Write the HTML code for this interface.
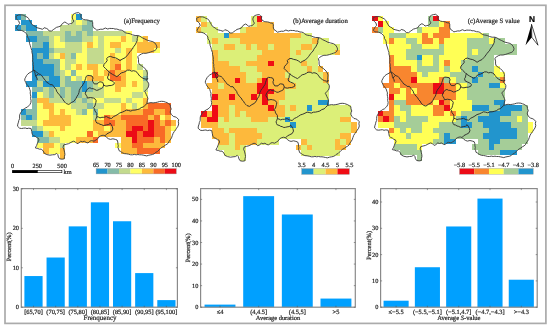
<!DOCTYPE html><html><head><meta charset="utf-8"><style>html,body{margin:0;padding:0;background:#fff;}svg{display:block;filter:blur(0.3px);}</style></head><body>
<svg width="550" height="329" viewBox="0 0 550 329" text-rendering="geometricPrecision">
<rect width="550" height="329" fill="#fff"/>
<g shape-rendering="crispEdges"><rect x="15.20" y="14.10" width="5.57" height="5.60" fill="#2295cd"/>
<rect x="20.75" y="14.10" width="5.57" height="5.60" fill="#85bba8"/>
<rect x="70.70" y="14.10" width="5.57" height="5.60" fill="#ffff66"/>
<rect x="76.25" y="14.10" width="5.57" height="5.60" fill="#2295cd"/>
<rect x="20.75" y="19.68" width="11.12" height="5.60" fill="#2295cd"/>
<rect x="70.70" y="19.68" width="5.57" height="5.60" fill="#c3da8e"/>
<rect x="76.25" y="19.68" width="5.57" height="5.60" fill="#ffff66"/>
<rect x="81.80" y="19.68" width="5.57" height="5.60" fill="#c3da8e"/>
<rect x="87.35" y="19.68" width="5.57" height="5.60" fill="#85bba8"/>
<rect x="15.20" y="25.27" width="5.57" height="5.60" fill="#2295cd"/>
<rect x="20.75" y="25.27" width="5.57" height="5.60" fill="#85bba8"/>
<rect x="26.30" y="25.27" width="11.12" height="5.60" fill="#2295cd"/>
<rect x="59.60" y="25.27" width="22.22" height="5.60" fill="#c3da8e"/>
<rect x="81.80" y="25.27" width="11.12" height="5.60" fill="#85bba8"/>
<rect x="26.30" y="30.85" width="16.67" height="5.60" fill="#85bba8"/>
<rect x="42.95" y="30.85" width="22.22" height="5.60" fill="#c3da8e"/>
<rect x="65.15" y="30.85" width="5.57" height="5.60" fill="#85bba8"/>
<rect x="70.70" y="30.85" width="5.57" height="5.60" fill="#c3da8e"/>
<rect x="76.25" y="30.85" width="5.57" height="5.60" fill="#85bba8"/>
<rect x="81.80" y="30.85" width="5.57" height="5.60" fill="#c3da8e"/>
<rect x="87.35" y="30.85" width="5.57" height="5.60" fill="#85bba8"/>
<rect x="92.90" y="30.85" width="33.32" height="5.60" fill="#c3da8e"/>
<rect x="126.20" y="30.85" width="5.57" height="5.60" fill="#ffff66"/>
<rect x="26.30" y="36.44" width="11.12" height="5.60" fill="#2295cd"/>
<rect x="37.40" y="36.44" width="11.12" height="5.60" fill="#85bba8"/>
<rect x="48.50" y="36.44" width="5.57" height="5.60" fill="#c3da8e"/>
<rect x="54.05" y="36.44" width="5.57" height="5.60" fill="#ffff66"/>
<rect x="59.60" y="36.44" width="5.57" height="5.60" fill="#c3da8e"/>
<rect x="65.15" y="36.44" width="16.67" height="5.60" fill="#85bba8"/>
<rect x="81.80" y="36.44" width="11.12" height="5.60" fill="#c3da8e"/>
<rect x="92.90" y="36.44" width="5.57" height="5.60" fill="#ffff66"/>
<rect x="98.45" y="36.44" width="5.57" height="5.60" fill="#c3da8e"/>
<rect x="104.00" y="36.44" width="16.67" height="5.60" fill="#ffff66"/>
<rect x="120.65" y="36.44" width="5.57" height="5.60" fill="#fdba3c"/>
<rect x="126.20" y="36.44" width="5.57" height="5.60" fill="#ffff66"/>
<rect x="131.75" y="36.44" width="5.57" height="5.60" fill="#c3da8e"/>
<rect x="137.30" y="36.44" width="5.57" height="5.60" fill="#ffff66"/>
<rect x="142.85" y="36.44" width="5.57" height="5.60" fill="#fdba3c"/>
<rect x="31.85" y="42.02" width="11.12" height="5.60" fill="#85bba8"/>
<rect x="42.95" y="42.02" width="5.57" height="5.60" fill="#2295cd"/>
<rect x="48.50" y="42.02" width="5.57" height="5.60" fill="#c3da8e"/>
<rect x="54.05" y="42.02" width="11.12" height="5.60" fill="#ffff66"/>
<rect x="65.15" y="42.02" width="16.67" height="5.60" fill="#c3da8e"/>
<rect x="81.80" y="42.02" width="5.57" height="5.60" fill="#ffff66"/>
<rect x="87.35" y="42.02" width="5.57" height="5.60" fill="#fdba3c"/>
<rect x="92.90" y="42.02" width="5.57" height="5.60" fill="#ffff66"/>
<rect x="98.45" y="42.02" width="5.57" height="5.60" fill="#c3da8e"/>
<rect x="104.00" y="42.02" width="5.57" height="5.60" fill="#ffff66"/>
<rect x="109.55" y="42.02" width="11.12" height="5.60" fill="#fdba3c"/>
<rect x="120.65" y="42.02" width="16.67" height="5.60" fill="#ffff66"/>
<rect x="137.30" y="42.02" width="22.22" height="5.60" fill="#fdba3c"/>
<rect x="31.85" y="47.61" width="16.67" height="5.60" fill="#2295cd"/>
<rect x="48.50" y="47.61" width="5.57" height="5.60" fill="#85bba8"/>
<rect x="54.05" y="47.61" width="27.77" height="5.60" fill="#c3da8e"/>
<rect x="81.80" y="47.61" width="5.57" height="5.60" fill="#ffff66"/>
<rect x="87.35" y="47.61" width="16.67" height="5.60" fill="#c3da8e"/>
<rect x="104.00" y="47.61" width="11.12" height="5.60" fill="#ffff66"/>
<rect x="115.10" y="47.61" width="5.57" height="5.60" fill="#c3da8e"/>
<rect x="120.65" y="47.61" width="5.57" height="5.60" fill="#ffff66"/>
<rect x="126.20" y="47.61" width="5.57" height="5.60" fill="#fdba3c"/>
<rect x="131.75" y="47.61" width="5.57" height="5.60" fill="#ffff66"/>
<rect x="137.30" y="47.61" width="16.67" height="5.60" fill="#fdba3c"/>
<rect x="153.95" y="47.61" width="5.57" height="5.60" fill="#ffff66"/>
<rect x="31.85" y="53.20" width="5.57" height="5.60" fill="#2295cd"/>
<rect x="37.40" y="53.20" width="5.57" height="5.60" fill="#85bba8"/>
<rect x="42.95" y="53.20" width="5.57" height="5.60" fill="#2295cd"/>
<rect x="48.50" y="53.20" width="5.57" height="5.60" fill="#c3da8e"/>
<rect x="54.05" y="53.20" width="5.57" height="5.60" fill="#ffff66"/>
<rect x="59.60" y="53.20" width="5.57" height="5.60" fill="#fdba3c"/>
<rect x="65.15" y="53.20" width="5.57" height="5.60" fill="#c3da8e"/>
<rect x="70.70" y="53.20" width="5.57" height="5.60" fill="#85bba8"/>
<rect x="76.25" y="53.20" width="11.12" height="5.60" fill="#ffff66"/>
<rect x="87.35" y="53.20" width="16.67" height="5.60" fill="#c3da8e"/>
<rect x="104.00" y="53.20" width="5.57" height="5.60" fill="#ffff66"/>
<rect x="109.55" y="53.20" width="5.57" height="5.60" fill="#fdba3c"/>
<rect x="115.10" y="53.20" width="11.12" height="5.60" fill="#ffff66"/>
<rect x="126.20" y="53.20" width="5.57" height="5.60" fill="#fdba3c"/>
<rect x="131.75" y="53.20" width="5.57" height="5.60" fill="#ffff66"/>
<rect x="31.85" y="58.78" width="11.12" height="5.60" fill="#2295cd"/>
<rect x="42.95" y="58.78" width="16.67" height="5.60" fill="#85bba8"/>
<rect x="59.60" y="58.78" width="5.57" height="5.60" fill="#ffff66"/>
<rect x="65.15" y="58.78" width="11.12" height="5.60" fill="#c3da8e"/>
<rect x="76.25" y="58.78" width="11.12" height="5.60" fill="#ffff66"/>
<rect x="87.35" y="58.78" width="16.67" height="5.60" fill="#c3da8e"/>
<rect x="104.00" y="58.78" width="5.57" height="5.60" fill="#ffff66"/>
<rect x="109.55" y="58.78" width="11.12" height="5.60" fill="#fdba3c"/>
<rect x="120.65" y="58.78" width="5.57" height="5.60" fill="#ffff66"/>
<rect x="126.20" y="58.78" width="5.57" height="5.60" fill="#fdba3c"/>
<rect x="131.75" y="58.78" width="5.57" height="5.60" fill="#ffff66"/>
<rect x="31.85" y="64.36" width="22.22" height="5.60" fill="#2295cd"/>
<rect x="54.05" y="64.36" width="5.57" height="5.60" fill="#85bba8"/>
<rect x="59.60" y="64.36" width="5.57" height="5.60" fill="#ffff66"/>
<rect x="65.15" y="64.36" width="5.57" height="5.60" fill="#c3da8e"/>
<rect x="70.70" y="64.36" width="5.57" height="5.60" fill="#ffff66"/>
<rect x="76.25" y="64.36" width="5.57" height="5.60" fill="#fdba3c"/>
<rect x="81.80" y="64.36" width="5.57" height="5.60" fill="#ffff66"/>
<rect x="87.35" y="64.36" width="11.12" height="5.60" fill="#fdba3c"/>
<rect x="98.45" y="64.36" width="11.12" height="5.60" fill="#ffff66"/>
<rect x="109.55" y="64.36" width="5.57" height="5.60" fill="#fdba3c"/>
<rect x="115.10" y="64.36" width="5.57" height="5.60" fill="#f86a26"/>
<rect x="120.65" y="64.36" width="5.57" height="5.60" fill="#ffff66"/>
<rect x="126.20" y="64.36" width="5.57" height="5.60" fill="#fdba3c"/>
<rect x="131.75" y="64.36" width="5.57" height="5.60" fill="#ffff66"/>
<rect x="137.30" y="64.36" width="5.57" height="5.60" fill="#c3da8e"/>
<rect x="31.85" y="69.95" width="22.22" height="5.60" fill="#2295cd"/>
<rect x="54.05" y="69.95" width="5.57" height="5.60" fill="#85bba8"/>
<rect x="59.60" y="69.95" width="5.57" height="5.60" fill="#c3da8e"/>
<rect x="65.15" y="69.95" width="5.57" height="5.60" fill="#ffff66"/>
<rect x="70.70" y="69.95" width="5.57" height="5.60" fill="#85bba8"/>
<rect x="76.25" y="69.95" width="16.67" height="5.60" fill="#ffff66"/>
<rect x="92.90" y="69.95" width="5.57" height="5.60" fill="#fdba3c"/>
<rect x="98.45" y="69.95" width="5.57" height="5.60" fill="#ffff66"/>
<rect x="104.00" y="69.95" width="5.57" height="5.60" fill="#fdba3c"/>
<rect x="109.55" y="69.95" width="5.57" height="5.60" fill="#f86a26"/>
<rect x="115.10" y="69.95" width="11.12" height="5.60" fill="#fdba3c"/>
<rect x="126.20" y="69.95" width="16.67" height="5.60" fill="#ffff66"/>
<rect x="142.85" y="69.95" width="5.57" height="5.60" fill="#c3da8e"/>
<rect x="31.85" y="75.53" width="5.57" height="5.60" fill="#2295cd"/>
<rect x="37.40" y="75.53" width="11.12" height="5.60" fill="#85bba8"/>
<rect x="48.50" y="75.53" width="11.12" height="5.60" fill="#2295cd"/>
<rect x="59.60" y="75.53" width="5.57" height="5.60" fill="#c3da8e"/>
<rect x="65.15" y="75.53" width="5.57" height="5.60" fill="#85bba8"/>
<rect x="70.70" y="75.53" width="5.57" height="5.60" fill="#ffff66"/>
<rect x="76.25" y="75.53" width="5.57" height="5.60" fill="#c3da8e"/>
<rect x="81.80" y="75.53" width="5.57" height="5.60" fill="#ffff66"/>
<rect x="87.35" y="75.53" width="16.67" height="5.60" fill="#fdba3c"/>
<rect x="104.00" y="75.53" width="5.57" height="5.60" fill="#ffff66"/>
<rect x="109.55" y="75.53" width="11.12" height="5.60" fill="#f86a26"/>
<rect x="120.65" y="75.53" width="5.57" height="5.60" fill="#fdba3c"/>
<rect x="126.20" y="75.53" width="16.67" height="5.60" fill="#ffff66"/>
<rect x="142.85" y="75.53" width="5.57" height="5.60" fill="#85bba8"/>
<rect x="26.30" y="81.12" width="11.12" height="5.60" fill="#2295cd"/>
<rect x="37.40" y="81.12" width="5.57" height="5.60" fill="#c3da8e"/>
<rect x="42.95" y="81.12" width="16.67" height="5.60" fill="#2295cd"/>
<rect x="59.60" y="81.12" width="5.57" height="5.60" fill="#c3da8e"/>
<rect x="65.15" y="81.12" width="16.67" height="5.60" fill="#85bba8"/>
<rect x="81.80" y="81.12" width="5.57" height="5.60" fill="#2295cd"/>
<rect x="87.35" y="81.12" width="5.57" height="5.60" fill="#85bba8"/>
<rect x="92.90" y="81.12" width="5.57" height="5.60" fill="#c3da8e"/>
<rect x="98.45" y="81.12" width="16.67" height="5.60" fill="#ffff66"/>
<rect x="115.10" y="81.12" width="11.12" height="5.60" fill="#fdba3c"/>
<rect x="126.20" y="81.12" width="5.57" height="5.60" fill="#ffff66"/>
<rect x="131.75" y="81.12" width="5.57" height="5.60" fill="#fdba3c"/>
<rect x="137.30" y="81.12" width="5.57" height="5.60" fill="#ffff66"/>
<rect x="142.85" y="81.12" width="5.57" height="5.60" fill="#c3da8e"/>
<rect x="31.85" y="86.70" width="11.12" height="5.60" fill="#85bba8"/>
<rect x="42.95" y="86.70" width="5.57" height="5.60" fill="#c3da8e"/>
<rect x="48.50" y="86.70" width="5.57" height="5.60" fill="#85bba8"/>
<rect x="54.05" y="86.70" width="5.57" height="5.60" fill="#c3da8e"/>
<rect x="59.60" y="86.70" width="5.57" height="5.60" fill="#85bba8"/>
<rect x="65.15" y="86.70" width="5.57" height="5.60" fill="#c3da8e"/>
<rect x="70.70" y="86.70" width="11.12" height="5.60" fill="#85bba8"/>
<rect x="81.80" y="86.70" width="5.57" height="5.60" fill="#2295cd"/>
<rect x="87.35" y="86.70" width="5.57" height="5.60" fill="#85bba8"/>
<rect x="92.90" y="86.70" width="11.12" height="5.60" fill="#c3da8e"/>
<rect x="104.00" y="86.70" width="11.12" height="5.60" fill="#ffff66"/>
<rect x="115.10" y="86.70" width="5.57" height="5.60" fill="#fdba3c"/>
<rect x="120.65" y="86.70" width="22.22" height="5.60" fill="#ffff66"/>
<rect x="142.85" y="86.70" width="5.57" height="5.60" fill="#c3da8e"/>
<rect x="31.85" y="92.29" width="5.57" height="5.60" fill="#2295cd"/>
<rect x="37.40" y="92.29" width="5.57" height="5.60" fill="#ffff66"/>
<rect x="42.95" y="92.29" width="5.57" height="5.60" fill="#c3da8e"/>
<rect x="48.50" y="92.29" width="5.57" height="5.60" fill="#85bba8"/>
<rect x="54.05" y="92.29" width="5.57" height="5.60" fill="#c3da8e"/>
<rect x="59.60" y="92.29" width="5.57" height="5.60" fill="#85bba8"/>
<rect x="65.15" y="92.29" width="5.57" height="5.60" fill="#c3da8e"/>
<rect x="70.70" y="92.29" width="11.12" height="5.60" fill="#85bba8"/>
<rect x="81.80" y="92.29" width="22.22" height="5.60" fill="#c3da8e"/>
<rect x="104.00" y="92.29" width="27.77" height="5.60" fill="#ffff66"/>
<rect x="131.75" y="92.29" width="11.12" height="5.60" fill="#c3da8e"/>
<rect x="142.85" y="92.29" width="5.57" height="5.60" fill="#ffff66"/>
<rect x="31.85" y="97.88" width="5.57" height="5.60" fill="#85bba8"/>
<rect x="37.40" y="97.88" width="11.12" height="5.60" fill="#fdba3c"/>
<rect x="48.50" y="97.88" width="22.22" height="5.60" fill="#c3da8e"/>
<rect x="70.70" y="97.88" width="5.57" height="5.60" fill="#85bba8"/>
<rect x="76.25" y="97.88" width="5.57" height="5.60" fill="#c3da8e"/>
<rect x="81.80" y="97.88" width="5.57" height="5.60" fill="#85bba8"/>
<rect x="87.35" y="97.88" width="5.57" height="5.60" fill="#c3da8e"/>
<rect x="92.90" y="97.88" width="11.12" height="5.60" fill="#ffff66"/>
<rect x="104.00" y="97.88" width="16.67" height="5.60" fill="#c3da8e"/>
<rect x="120.65" y="97.88" width="5.57" height="5.60" fill="#ffff66"/>
<rect x="126.20" y="97.88" width="5.57" height="5.60" fill="#c3da8e"/>
<rect x="131.75" y="97.88" width="11.12" height="5.60" fill="#ffff66"/>
<rect x="142.85" y="97.88" width="5.57" height="5.60" fill="#fdba3c"/>
<rect x="31.85" y="103.46" width="5.57" height="5.60" fill="#85bba8"/>
<rect x="37.40" y="103.46" width="5.57" height="5.60" fill="#ffff66"/>
<rect x="42.95" y="103.46" width="11.12" height="5.60" fill="#fdba3c"/>
<rect x="54.05" y="103.46" width="16.67" height="5.60" fill="#ffff66"/>
<rect x="70.70" y="103.46" width="16.67" height="5.60" fill="#c3da8e"/>
<rect x="87.35" y="103.46" width="5.57" height="5.60" fill="#85bba8"/>
<rect x="92.90" y="103.46" width="11.12" height="5.60" fill="#c3da8e"/>
<rect x="104.00" y="103.46" width="16.67" height="5.60" fill="#ffff66"/>
<rect x="120.65" y="103.46" width="5.57" height="5.60" fill="#fdba3c"/>
<rect x="126.20" y="103.46" width="5.57" height="5.60" fill="#ffff66"/>
<rect x="131.75" y="103.46" width="5.57" height="5.60" fill="#c3da8e"/>
<rect x="137.30" y="103.46" width="5.57" height="5.60" fill="#ffff66"/>
<rect x="142.85" y="103.46" width="5.57" height="5.60" fill="#fdba3c"/>
<rect x="148.40" y="103.46" width="22.22" height="5.60" fill="#f86a26"/>
<rect x="20.75" y="109.04" width="5.57" height="5.60" fill="#2295cd"/>
<rect x="26.30" y="109.04" width="11.12" height="5.60" fill="#85bba8"/>
<rect x="37.40" y="109.04" width="11.12" height="5.60" fill="#ffff66"/>
<rect x="48.50" y="109.04" width="5.57" height="5.60" fill="#fdba3c"/>
<rect x="54.05" y="109.04" width="5.57" height="5.60" fill="#ffff66"/>
<rect x="59.60" y="109.04" width="5.57" height="5.60" fill="#fdba3c"/>
<rect x="65.15" y="109.04" width="11.12" height="5.60" fill="#ffff66"/>
<rect x="76.25" y="109.04" width="5.57" height="5.60" fill="#c3da8e"/>
<rect x="81.80" y="109.04" width="5.57" height="5.60" fill="#85bba8"/>
<rect x="87.35" y="109.04" width="5.57" height="5.60" fill="#ffff66"/>
<rect x="92.90" y="109.04" width="5.57" height="5.60" fill="#85bba8"/>
<rect x="98.45" y="109.04" width="22.22" height="5.60" fill="#ffff66"/>
<rect x="120.65" y="109.04" width="22.22" height="5.60" fill="#fdba3c"/>
<rect x="142.85" y="109.04" width="11.12" height="5.60" fill="#f86a26"/>
<rect x="153.95" y="109.04" width="11.12" height="5.60" fill="#fdba3c"/>
<rect x="165.05" y="109.04" width="5.57" height="5.60" fill="#f86a26"/>
<rect x="20.75" y="114.63" width="5.57" height="5.60" fill="#85bba8"/>
<rect x="26.30" y="114.63" width="5.57" height="5.60" fill="#2295cd"/>
<rect x="31.85" y="114.63" width="5.57" height="5.60" fill="#85bba8"/>
<rect x="37.40" y="114.63" width="11.12" height="5.60" fill="#ffff66"/>
<rect x="48.50" y="114.63" width="22.22" height="5.60" fill="#fdba3c"/>
<rect x="70.70" y="114.63" width="22.22" height="5.60" fill="#ffff66"/>
<rect x="92.90" y="114.63" width="5.57" height="5.60" fill="#c3da8e"/>
<rect x="98.45" y="114.63" width="5.57" height="5.60" fill="#ffff66"/>
<rect x="104.00" y="114.63" width="5.57" height="5.60" fill="#f86a26"/>
<rect x="109.55" y="114.63" width="11.12" height="5.60" fill="#fdba3c"/>
<rect x="120.65" y="114.63" width="27.77" height="5.60" fill="#f86a26"/>
<rect x="148.40" y="114.63" width="5.57" height="5.60" fill="#fdba3c"/>
<rect x="153.95" y="114.63" width="5.57" height="5.60" fill="#f86a26"/>
<rect x="159.50" y="114.63" width="5.57" height="5.60" fill="#ffff66"/>
<rect x="165.05" y="114.63" width="5.57" height="5.60" fill="#fdba3c"/>
<rect x="20.75" y="120.21" width="16.67" height="5.60" fill="#c3da8e"/>
<rect x="37.40" y="120.21" width="5.57" height="5.60" fill="#ffff66"/>
<rect x="42.95" y="120.21" width="27.77" height="5.60" fill="#fdba3c"/>
<rect x="70.70" y="120.21" width="22.22" height="5.60" fill="#ffff66"/>
<rect x="92.90" y="120.21" width="11.12" height="5.60" fill="#fdba3c"/>
<rect x="104.00" y="120.21" width="11.12" height="5.60" fill="#f86a26"/>
<rect x="115.10" y="120.21" width="11.12" height="5.60" fill="#fdba3c"/>
<rect x="126.20" y="120.21" width="22.22" height="5.60" fill="#f86a26"/>
<rect x="148.40" y="120.21" width="5.57" height="5.60" fill="#ec0c16"/>
<rect x="153.95" y="120.21" width="5.57" height="5.60" fill="#f86a26"/>
<rect x="159.50" y="120.21" width="5.57" height="5.60" fill="#fdba3c"/>
<rect x="165.05" y="120.21" width="5.57" height="5.60" fill="#f86a26"/>
<rect x="170.60" y="120.21" width="5.57" height="5.60" fill="#fdba3c"/>
<rect x="31.85" y="125.80" width="5.57" height="5.60" fill="#85bba8"/>
<rect x="37.40" y="125.80" width="5.57" height="5.60" fill="#c3da8e"/>
<rect x="42.95" y="125.80" width="16.67" height="5.60" fill="#ffff66"/>
<rect x="59.60" y="125.80" width="5.57" height="5.60" fill="#fdba3c"/>
<rect x="65.15" y="125.80" width="27.77" height="5.60" fill="#ffff66"/>
<rect x="92.90" y="125.80" width="11.12" height="5.60" fill="#fdba3c"/>
<rect x="104.00" y="125.80" width="5.57" height="5.60" fill="#ffff66"/>
<rect x="109.55" y="125.80" width="16.67" height="5.60" fill="#fdba3c"/>
<rect x="126.20" y="125.80" width="5.57" height="5.60" fill="#f86a26"/>
<rect x="131.75" y="125.80" width="11.12" height="5.60" fill="#ec0c16"/>
<rect x="142.85" y="125.80" width="5.57" height="5.60" fill="#f86a26"/>
<rect x="148.40" y="125.80" width="5.57" height="5.60" fill="#ec0c16"/>
<rect x="153.95" y="125.80" width="11.12" height="5.60" fill="#f86a26"/>
<rect x="165.05" y="125.80" width="5.57" height="5.60" fill="#fdba3c"/>
<rect x="170.60" y="125.80" width="5.57" height="5.60" fill="#ffff66"/>
<rect x="31.85" y="131.38" width="11.12" height="5.60" fill="#2295cd"/>
<rect x="42.95" y="131.38" width="5.57" height="5.60" fill="#c3da8e"/>
<rect x="48.50" y="131.38" width="5.57" height="5.60" fill="#fdba3c"/>
<rect x="54.05" y="131.38" width="33.32" height="5.60" fill="#ffff66"/>
<rect x="87.35" y="131.38" width="5.57" height="5.60" fill="#f86a26"/>
<rect x="92.90" y="131.38" width="5.57" height="5.60" fill="#ffff66"/>
<rect x="98.45" y="131.38" width="27.77" height="5.60" fill="#fdba3c"/>
<rect x="126.20" y="131.38" width="11.12" height="5.60" fill="#ec0c16"/>
<rect x="137.30" y="131.38" width="5.57" height="5.60" fill="#f86a26"/>
<rect x="142.85" y="131.38" width="11.12" height="5.60" fill="#ec0c16"/>
<rect x="153.95" y="131.38" width="11.12" height="5.60" fill="#f86a26"/>
<rect x="165.05" y="131.38" width="5.57" height="5.60" fill="#fdba3c"/>
<rect x="37.40" y="136.97" width="11.12" height="5.60" fill="#85bba8"/>
<rect x="48.50" y="136.97" width="11.12" height="5.60" fill="#c3da8e"/>
<rect x="59.60" y="136.97" width="16.67" height="5.60" fill="#ffff66"/>
<rect x="76.25" y="136.97" width="16.67" height="5.60" fill="#fdba3c"/>
<rect x="92.90" y="136.97" width="5.57" height="5.60" fill="#f86a26"/>
<rect x="120.65" y="136.97" width="11.12" height="5.60" fill="#fdba3c"/>
<rect x="131.75" y="136.97" width="5.57" height="5.60" fill="#ec0c16"/>
<rect x="137.30" y="136.97" width="16.67" height="5.60" fill="#f86a26"/>
<rect x="153.95" y="136.97" width="5.57" height="5.60" fill="#fdba3c"/>
<rect x="159.50" y="136.97" width="5.57" height="5.60" fill="#f86a26"/>
<rect x="165.05" y="136.97" width="5.57" height="5.60" fill="#fdba3c"/>
<rect x="37.40" y="142.56" width="5.57" height="5.60" fill="#ffff66"/>
<rect x="42.95" y="142.56" width="11.12" height="5.60" fill="#fdba3c"/>
<rect x="54.05" y="142.56" width="5.57" height="5.60" fill="#ffff66"/>
<rect x="59.60" y="142.56" width="5.57" height="5.60" fill="#c3da8e"/>
<rect x="115.10" y="142.56" width="5.57" height="5.60" fill="#ffff66"/>
<rect x="120.65" y="142.56" width="11.12" height="5.60" fill="#fdba3c"/>
<rect x="131.75" y="142.56" width="11.12" height="5.60" fill="#f86a26"/>
<rect x="142.85" y="142.56" width="22.22" height="5.60" fill="#fdba3c"/>
<rect x="42.95" y="148.14" width="5.57" height="5.60" fill="#fdba3c"/>
<rect x="48.50" y="148.14" width="11.12" height="5.60" fill="#ffff66"/>
<rect x="59.60" y="148.14" width="5.57" height="5.60" fill="#fdba3c"/>
<rect x="120.65" y="148.14" width="16.67" height="5.60" fill="#fdba3c"/>
<rect x="137.30" y="148.14" width="22.22" height="5.60" fill="#f86a26"/>
<rect x="59.60" y="153.72" width="5.57" height="5.60" fill="#fdba3c"/></g>
<g transform="translate(15.2,14.1)" fill="none" stroke-linejoin="round"><path d="M0.8,2.1 L3.6,0.8 L5.2,0.8 L6.9,0.8 L8.5,1.3 L10.1,2.2 L11.8,2.9 L13.4,4.3 L14.3,6.2 L15.5,8.3 L16.7,10.3 L18.1,11.2 L19.7,12.0 L20.8,13.3 L22.8,13.9 L24.9,14.4 L27.4,15.2 L29.0,13.6 L31.5,14.4 L33.0,15.4 L34.0,16.9 L36.4,16.9 L38.0,15.6 L39.7,14.4 L41.2,13.3 L43.0,12.8 L45.5,12.0 L47.1,9.5 L49.6,7.9 L51.4,8.8 L52.8,10.3 L54.4,9.8 L56.1,9.5 L57.6,8.5 L58.6,7.0 L57.5,5.1 L57.0,2.9 L57.8,0.5 L59.3,-0.6 L61.1,-1.2 L63.5,-1.5 L64.7,-0.4 L66.0,0.5 L65.6,2.1 L66.0,3.8 L68.4,5.4 L70.1,5.7 L71.7,5.8 L73.4,6.2 L74.9,7.0 L76.7,7.0 L77.5,8.6 L77.5,10.3 L77.6,12.0 L78.3,13.6 L80.1,14.7 L81.6,16.1 L83.5,15.6 L85.5,15.1 L87.6,15.2 L90.1,13.9 L92.5,14.9 L94.5,14.3 L96.6,14.4 L98.3,14.4 L99.8,15.0 L101.5,14.9 L104.2,15.9 L106.0,16.0 L107.6,16.6 L108.9,17.7 L110.3,18.7 L112.0,19.2 L113.8,19.4 L115.5,19.9 L117.2,20.7 L119.9,21.4 L122.6,21.4 L124.7,22.1 L126.7,23.5 L129.5,24.8 L132.2,26.2 L134.9,26.9 L137.7,27.6 L139.7,28.9 L141.1,31.0 L141.8,33.0 L141.1,35.1 L139.7,36.4 L137.7,37.1 L135.6,37.8 L133.6,38.5 L130.8,39.2 L128.1,39.2 L126.1,39.9 L124.0,41.2 L122.6,42.6 L123.3,45.3 L123.3,48.1 L124.0,50.1 L126.1,51.5 L128.1,52.8 L130.2,54.9 L131.5,56.9 L132.2,58.9 L132.0,61.0 L131.9,63.2 L131.9,64.9 L131.1,66.5 L132.7,67.9 L133.6,69.8 L133.4,71.9 L132.7,73.9 L131.0,75.4 L129.5,77.2 L130.4,78.8 L131.1,80.5 L132.1,82.5 L132.7,84.6 L132.2,86.2 L131.9,87.9 L131.5,89.6 L133.6,88.9 L135.8,88.5 L137.9,88.8 L140.0,88.5 L142.2,88.1 L144.3,87.4 L146.4,87.2 L148.6,87.4 L150.2,88.0 L151.8,88.5 L153.4,89.6 L155.0,90.6 L155.2,92.8 L156.0,94.9 L155.3,96.4 L155.0,98.1 L156.0,100.2 L158.2,102.4 L159.9,102.7 L161.4,103.4 L163.5,105.6 L163.1,107.7 L163.5,109.8 L162.8,112.1 L161.4,114.1 L160.4,115.7 L159.2,117.3 L157.9,119.3 L157.1,121.5 L156.3,123.8 L155.0,125.8 L153.9,127.2 L153.2,128.9 L151.8,130.1 L150.1,131.0 L148.6,132.2 L146.9,133.1 L145.4,134.3 L143.8,135.9 L142.2,137.5 L140.4,138.3 L139.0,139.7 L137.4,140.4 L135.8,140.7 L133.6,141.1 L131.5,141.8 L129.8,141.4 L128.0,141.0 L126.2,140.7 L124.4,140.7 L122.7,140.4 L120.9,140.7 L119.1,140.3 L117.3,140.7 L115.5,140.7 L113.4,140.1 L111.3,139.7 L109.1,139.5 L107.0,138.6 L105.5,137.4 L103.8,136.5 L103.4,134.9 L102.7,133.3 L103.1,131.7 L102.7,130.1 L102.6,127.9 L101.9,125.9 L100.1,125.3 L97.7,124.7 L95.2,125.3 L93.4,124.7 L91.6,123.5 L89.8,121.7 L87.9,121.1 L85.5,121.7 L83.7,122.9 L82.5,124.7 L80.7,125.9 L78.8,127.1 L76.4,126.5 L74.6,127.1 L72.8,128.9 L70.9,128.3 L69.1,127.1 L67.3,127.7 L65.5,127.1 L63.6,128.9 L61.8,129.6 L60.0,127.7 L58.2,127.1 L55.7,128.3 L53.3,129.6 L50.9,130.2 L48.5,130.8 L47.8,133.2 L48.6,135.0 L49.1,136.9 L49.5,138.7 L49.7,140.5 L49.2,142.6 L49.1,144.7 L46.9,145.1 L44.4,144.7 L43.2,142.9 L42.6,140.5 L41.4,139.3 L39.6,140.5 L37.2,140.7 L34.7,141.1 L31.7,140.5 L29.2,139.3 L28.0,136.9 L26.2,135.0 L24.3,135.1 L22.6,134.4 L20.1,133.8 L21.4,131.4 L22.0,129.8 L22.6,128.3 L23.8,125.9 L23.2,124.1 L21.5,123.5 L20.1,122.3 L18.4,121.6 L17.1,120.4 L16.5,117.4 L15.9,114.4 L13.5,114.1 L11.8,114.5 L10.1,113.9 L8.4,114.1 L6.4,114.4 L4.4,114.1 L2.3,112.1 L2.6,110.0 L3.3,108.0 L3.6,106.3 L4.4,104.7 L4.4,102.9 L4.5,100.8 L5.4,98.8 L6.4,97.3 L7.4,95.8 L9.0,94.8 L10.5,93.7 L12.2,93.0 L13.5,91.7 L14.8,90.3 L15.6,88.6 L15.9,86.6 L15.4,84.5 L15.6,82.5 L15.3,80.7 L15.0,79.0 L15.2,77.1 L14.6,75.4 L13.9,73.2 L12.5,71.3 L11.2,69.9 L10.5,68.2 L9.5,66.2 L9.7,64.6 L10.5,63.1 L11.3,61.5 L12.5,60.1 L13.9,58.9 L15.6,58.0 L17.6,57.0 L18.4,55.9 L18.3,54.1 L18.3,52.2 L17.9,50.4 L18.0,48.5 L17.4,46.9 L17.7,45.2 L17.5,43.6 L17.5,41.9 L17.2,40.0 L16.7,38.2 L16.7,36.5 L16.1,34.9 L15.6,33.3 L15.0,31.2 L14.3,29.2 L14.1,27.5 L13.9,25.9 L13.4,24.3 L12.2,22.8 L12.1,20.9 L11.0,19.4 L9.5,17.9 L7.7,16.9 L6.1,16.3 L4.5,16.1 L2.8,16.1 L1.1,14.4 L2.4,12.0 L3.3,10.7 L4.4,9.5 L3.6,7.0 L2.3,5.9 L1.1,4.6Z" stroke="#404040" stroke-width="0.95"/><path d="M122.6,21.4 L122.5,23.0 L122.0,24.6 L122.0,26.4 L121.3,28.1 L119.9,30.8 L118.8,32.1 L117.9,33.5 L117.2,35.1 L115.8,36.3 L114.8,37.6 L113.8,39.0 L112.8,40.4 L111.7,41.7 L109.7,43.8 L106.9,45.1 L104.8,46.5 L102.7,44.9 L100.5,43.8 L97.9,43.3 L95.2,42.3 L93.1,42.8 L91.5,44.4 L92.0,46.5 L90.4,48.6 L88.8,50.2 L88.3,52.4 L90.4,54.5 L92.6,56.6 L94.2,58.2 L95.8,59.3 L97.4,60.3 L99.5,61.4 L101.6,62.5 L102.7,61.9 L103.7,60.9 L104.8,59.8 L106.4,58.7 L108.5,58.2 L110.7,57.1 L112.2,56.1 L114.4,56.1 L116.5,57.1 L118.1,56.6 L120.2,57.1 L121.8,58.2 L122.9,59.8 L124.5,61.9 L126.6,63.5 L128.7,64.6 L130.9,65.1 L133.0,64.6 M18.4,55.9 L19.9,56.8 L21.3,57.8 L22.5,59.1 L23.8,60.0 L25.4,60.4 L26.6,61.6 L27.8,63.3 L29.0,64.9 L30.3,66.5 L31.5,68.2 L33.4,69.1 L34.8,70.6 L37.2,70.6 L38.4,72.3 L39.7,73.9 L40.9,75.4 L41.4,77.2 L42.6,78.8 L43.8,80.5 L45.4,81.9 L46.3,83.8 L47.8,85.2 L48.7,87.1 L50.0,88.3 L51.2,89.5 L53.7,90.3 L56.1,88.5 L58.7,87.2 L60.6,84.7 L61.9,82.1 L63.1,80.3 L63.8,78.3 L64.1,76.3 L65.0,74.5 L65.8,73.0 L67.0,71.9 L68.0,70.1 L69.2,68.4 L69.7,66.4 L70.4,64.4 L70.9,62.4 L72.6,61.3 L74.7,61.5 L76.8,61.9 L77.9,64.0 L77.2,65.5 L77.4,67.2 L79.0,69.8 L82.2,69.8 L83.2,68.4 L84.8,67.7 L87.5,68.2 L88.5,70.9 L90.0,71.8 L91.7,72.0 L93.8,71.5 L96.0,71.4 L98.6,70.4 L99.2,68.8 L97.6,67.2 L94.9,66.1 L92.8,65.0 L92.3,62.9 L93.3,61.3 L93.5,59.4 L94.4,57.6 M18.4,55.9 L19.1,57.4 L19.9,59.0 L20.1,60.7 L20.8,62.3 L21.8,64.0 L22.0,65.9 M20.8,62.3 L22.6,59.9 M88.5,70.9 L87.5,73.6 L86.0,74.5 L84.3,75.2 L82.8,76.0 L81.1,76.2 L79.6,75.3 L77.9,74.6 L76.2,74.5 L74.7,73.6 L72.6,74.6 L71.5,76.2 L70.5,77.8 L70.1,79.6 L70.9,81.0 L71.8,82.4 L72.1,84.0 L75.2,83.4 L76.8,83.7 L78.4,84.0 L80.0,85.0 L81.0,86.6 L80.7,88.2 L80.3,89.8 L79.7,91.9 L78.4,93.6 L79.4,95.1 L79.7,96.8 L81.6,99.3 L81.6,102.5 L81.0,104.1 L80.3,105.7 L80.7,107.4 L81.6,108.9 L83.3,109.2 L84.8,110.2 L86.5,110.6 L88.0,111.4 L89.6,111.2 L91.2,110.8 L93.2,110.5 L95.0,109.5 L94.6,108.9 L95.8,110.1 L97.1,112.5 L97.7,115.0 L96.4,117.4 L94.0,118.6 L91.6,119.8 L89.8,121.7 M81.6,102.5 L83.3,103.0 L84.8,103.8 L86.7,103.2 L88.6,103.2 L91.2,102.5 L93.7,103.8 L96.3,104.4 L98.5,102.4 L100.7,101.4 L102.7,100.2 L104.7,98.8 L107.0,98.1 L109.2,97.1 L111.3,96.0 L113.4,96.4 L115.5,97.0 L117.6,96.1 L119.8,96.0 L122.0,95.5 L124.1,94.9 L126.0,93.5 L128.3,92.8 L129.9,91.2 L131.5,89.6" stroke="#2c2c2c" stroke-width="0.95"/></g>
<g shape-rendering="crispEdges"><rect x="195.80" y="16.10" width="5.57" height="5.60" fill="#fdb93c"/>
<rect x="201.35" y="16.10" width="5.57" height="5.60" fill="#dcef78"/>
<rect x="251.30" y="16.10" width="5.57" height="5.60" fill="#dcef78"/>
<rect x="256.85" y="16.10" width="5.57" height="5.60" fill="#f00c14"/>
<rect x="201.35" y="21.69" width="5.57" height="5.60" fill="#fdb93c"/>
<rect x="206.90" y="21.69" width="5.57" height="5.60" fill="#dcef78"/>
<rect x="251.30" y="21.69" width="5.57" height="5.60" fill="#dcef78"/>
<rect x="256.85" y="21.69" width="16.67" height="5.60" fill="#fdb93c"/>
<rect x="195.80" y="27.27" width="5.57" height="5.60" fill="#fdb93c"/>
<rect x="201.35" y="27.27" width="16.67" height="5.60" fill="#dcef78"/>
<rect x="240.20" y="27.27" width="5.57" height="5.60" fill="#dcef78"/>
<rect x="245.75" y="27.27" width="27.77" height="5.60" fill="#fdb93c"/>
<rect x="206.90" y="32.86" width="16.67" height="5.60" fill="#dcef78"/>
<rect x="223.55" y="32.86" width="5.57" height="5.60" fill="#2295cd"/>
<rect x="229.10" y="32.86" width="72.17" height="5.60" fill="#fdb93c"/>
<rect x="301.25" y="32.86" width="11.12" height="5.60" fill="#dcef78"/>
<rect x="206.90" y="38.44" width="5.57" height="5.60" fill="#dcef78"/>
<rect x="212.45" y="38.44" width="5.57" height="5.60" fill="#fdb93c"/>
<rect x="218.00" y="38.44" width="22.22" height="5.60" fill="#dcef78"/>
<rect x="240.20" y="38.44" width="49.97" height="5.60" fill="#fdb93c"/>
<rect x="290.15" y="38.44" width="22.22" height="5.60" fill="#dcef78"/>
<rect x="312.35" y="38.44" width="5.57" height="5.60" fill="#fdb93c"/>
<rect x="317.90" y="38.44" width="11.12" height="5.60" fill="#dcef78"/>
<rect x="212.45" y="44.03" width="11.12" height="5.60" fill="#dcef78"/>
<rect x="223.55" y="44.03" width="11.12" height="5.60" fill="#fdb93c"/>
<rect x="234.65" y="44.03" width="11.12" height="5.60" fill="#dcef78"/>
<rect x="245.75" y="44.03" width="5.57" height="5.60" fill="#fdb93c"/>
<rect x="251.30" y="44.03" width="5.57" height="5.60" fill="#dcef78"/>
<rect x="256.85" y="44.03" width="11.12" height="5.60" fill="#fdb93c"/>
<rect x="267.95" y="44.03" width="5.57" height="5.60" fill="#dcef78"/>
<rect x="273.50" y="44.03" width="16.67" height="5.60" fill="#fdb93c"/>
<rect x="290.15" y="44.03" width="11.12" height="5.60" fill="#dcef78"/>
<rect x="301.25" y="44.03" width="11.12" height="5.60" fill="#fdb93c"/>
<rect x="312.35" y="44.03" width="27.77" height="5.60" fill="#dcef78"/>
<rect x="212.45" y="49.61" width="5.57" height="5.60" fill="#fdb93c"/>
<rect x="218.00" y="49.61" width="44.42" height="5.60" fill="#dcef78"/>
<rect x="262.40" y="49.61" width="27.77" height="5.60" fill="#fdb93c"/>
<rect x="290.15" y="49.61" width="5.57" height="5.60" fill="#dcef78"/>
<rect x="295.70" y="49.61" width="5.57" height="5.60" fill="#fdb93c"/>
<rect x="301.25" y="49.61" width="33.32" height="5.60" fill="#dcef78"/>
<rect x="334.55" y="49.61" width="5.57" height="5.60" fill="#fdb93c"/>
<rect x="212.45" y="55.20" width="5.57" height="5.60" fill="#fdb93c"/>
<rect x="218.00" y="55.20" width="38.87" height="5.60" fill="#dcef78"/>
<rect x="256.85" y="55.20" width="33.32" height="5.60" fill="#fdb93c"/>
<rect x="290.15" y="55.20" width="27.77" height="5.60" fill="#dcef78"/>
<rect x="212.45" y="60.78" width="16.67" height="5.60" fill="#fdb93c"/>
<rect x="229.10" y="60.78" width="16.67" height="5.60" fill="#dcef78"/>
<rect x="245.75" y="60.78" width="22.22" height="5.60" fill="#fdb93c"/>
<rect x="267.95" y="60.78" width="5.57" height="5.60" fill="#f00c14"/>
<rect x="273.50" y="60.78" width="16.67" height="5.60" fill="#fdb93c"/>
<rect x="290.15" y="60.78" width="11.12" height="5.60" fill="#dcef78"/>
<rect x="301.25" y="60.78" width="5.57" height="5.60" fill="#fdb93c"/>
<rect x="306.80" y="60.78" width="11.12" height="5.60" fill="#dcef78"/>
<rect x="212.45" y="66.37" width="27.77" height="5.60" fill="#fdb93c"/>
<rect x="240.20" y="66.37" width="16.67" height="5.60" fill="#dcef78"/>
<rect x="256.85" y="66.37" width="33.32" height="5.60" fill="#fdb93c"/>
<rect x="290.15" y="66.37" width="16.67" height="5.60" fill="#dcef78"/>
<rect x="306.80" y="66.37" width="5.57" height="5.60" fill="#fdb93c"/>
<rect x="312.35" y="66.37" width="5.57" height="5.60" fill="#dcef78"/>
<rect x="317.90" y="66.37" width="5.57" height="5.60" fill="#fdb93c"/>
<rect x="212.45" y="71.95" width="5.57" height="5.60" fill="#f00c14"/>
<rect x="218.00" y="71.95" width="27.77" height="5.60" fill="#fdb93c"/>
<rect x="245.75" y="71.95" width="16.67" height="5.60" fill="#dcef78"/>
<rect x="262.40" y="71.95" width="22.22" height="5.60" fill="#fdb93c"/>
<rect x="284.60" y="71.95" width="38.87" height="5.60" fill="#dcef78"/>
<rect x="323.45" y="71.95" width="5.57" height="5.60" fill="#fdb93c"/>
<rect x="212.45" y="77.53" width="22.22" height="5.60" fill="#fdb93c"/>
<rect x="234.65" y="77.53" width="5.57" height="5.60" fill="#f00c14"/>
<rect x="240.20" y="77.53" width="5.57" height="5.60" fill="#fdb93c"/>
<rect x="245.75" y="77.53" width="11.12" height="5.60" fill="#dcef78"/>
<rect x="256.85" y="77.53" width="5.57" height="5.60" fill="#fdb93c"/>
<rect x="262.40" y="77.53" width="5.57" height="5.60" fill="#f00c14"/>
<rect x="267.95" y="77.53" width="22.22" height="5.60" fill="#fdb93c"/>
<rect x="290.15" y="77.53" width="33.32" height="5.60" fill="#dcef78"/>
<rect x="323.45" y="77.53" width="5.57" height="5.60" fill="#fdb93c"/>
<rect x="206.90" y="83.12" width="11.12" height="5.60" fill="#fdb93c"/>
<rect x="218.00" y="83.12" width="5.57" height="5.60" fill="#dcef78"/>
<rect x="223.55" y="83.12" width="33.32" height="5.60" fill="#fdb93c"/>
<rect x="256.85" y="83.12" width="11.12" height="5.60" fill="#f00c14"/>
<rect x="267.95" y="83.12" width="27.77" height="5.60" fill="#fdb93c"/>
<rect x="295.70" y="83.12" width="33.32" height="5.60" fill="#dcef78"/>
<rect x="212.45" y="88.71" width="44.42" height="5.60" fill="#fdb93c"/>
<rect x="256.85" y="88.71" width="16.67" height="5.60" fill="#f00c14"/>
<rect x="273.50" y="88.71" width="11.12" height="5.60" fill="#fdb93c"/>
<rect x="284.60" y="88.71" width="44.42" height="5.60" fill="#dcef78"/>
<rect x="212.45" y="94.29" width="5.57" height="5.60" fill="#f00c14"/>
<rect x="218.00" y="94.29" width="11.12" height="5.60" fill="#fdb93c"/>
<rect x="229.10" y="94.29" width="5.57" height="5.60" fill="#f00c14"/>
<rect x="234.65" y="94.29" width="16.67" height="5.60" fill="#fdb93c"/>
<rect x="251.30" y="94.29" width="5.57" height="5.60" fill="#f00c14"/>
<rect x="256.85" y="94.29" width="5.57" height="5.60" fill="#fdb93c"/>
<rect x="262.40" y="94.29" width="5.57" height="5.60" fill="#f00c14"/>
<rect x="267.95" y="94.29" width="16.67" height="5.60" fill="#fdb93c"/>
<rect x="284.60" y="94.29" width="44.42" height="5.60" fill="#dcef78"/>
<rect x="212.45" y="99.88" width="49.97" height="5.60" fill="#fdb93c"/>
<rect x="262.40" y="99.88" width="5.57" height="5.60" fill="#f00c14"/>
<rect x="267.95" y="99.88" width="11.12" height="5.60" fill="#fdb93c"/>
<rect x="279.05" y="99.88" width="38.87" height="5.60" fill="#dcef78"/>
<rect x="317.90" y="99.88" width="11.12" height="5.60" fill="#2295cd"/>
<rect x="212.45" y="105.46" width="5.57" height="5.60" fill="#f00c14"/>
<rect x="218.00" y="105.46" width="11.12" height="5.60" fill="#fdb93c"/>
<rect x="229.10" y="105.46" width="5.57" height="5.60" fill="#dcef78"/>
<rect x="234.65" y="105.46" width="33.32" height="5.60" fill="#fdb93c"/>
<rect x="267.95" y="105.46" width="5.57" height="5.60" fill="#f00c14"/>
<rect x="273.50" y="105.46" width="11.12" height="5.60" fill="#fdb93c"/>
<rect x="284.60" y="105.46" width="5.57" height="5.60" fill="#dcef78"/>
<rect x="290.15" y="105.46" width="5.57" height="5.60" fill="#fdb93c"/>
<rect x="295.70" y="105.46" width="11.12" height="5.60" fill="#dcef78"/>
<rect x="306.80" y="105.46" width="5.57" height="5.60" fill="#2295cd"/>
<rect x="312.35" y="105.46" width="38.87" height="5.60" fill="#dcef78"/>
<rect x="201.35" y="111.04" width="5.57" height="5.60" fill="#f00c14"/>
<rect x="206.90" y="111.04" width="5.57" height="5.60" fill="#fdb93c"/>
<rect x="212.45" y="111.04" width="5.57" height="5.60" fill="#f00c14"/>
<rect x="218.00" y="111.04" width="11.12" height="5.60" fill="#fdb93c"/>
<rect x="229.10" y="111.04" width="5.57" height="5.60" fill="#dcef78"/>
<rect x="234.65" y="111.04" width="5.57" height="5.60" fill="#fdb93c"/>
<rect x="240.20" y="111.04" width="5.57" height="5.60" fill="#dcef78"/>
<rect x="245.75" y="111.04" width="38.87" height="5.60" fill="#fdb93c"/>
<rect x="284.60" y="111.04" width="66.62" height="5.60" fill="#dcef78"/>
<rect x="201.35" y="116.63" width="5.57" height="5.60" fill="#fdb93c"/>
<rect x="206.90" y="116.63" width="11.12" height="5.60" fill="#f00c14"/>
<rect x="218.00" y="116.63" width="5.57" height="5.60" fill="#dcef78"/>
<rect x="223.55" y="116.63" width="5.57" height="5.60" fill="#fdb93c"/>
<rect x="229.10" y="116.63" width="22.22" height="5.60" fill="#dcef78"/>
<rect x="251.30" y="116.63" width="16.67" height="5.60" fill="#fdb93c"/>
<rect x="267.95" y="116.63" width="16.67" height="5.60" fill="#dcef78"/>
<rect x="284.60" y="116.63" width="5.57" height="5.60" fill="#2295cd"/>
<rect x="290.15" y="116.63" width="49.97" height="5.60" fill="#dcef78"/>
<rect x="340.10" y="116.63" width="11.12" height="5.60" fill="#fdb93c"/>
<rect x="201.35" y="122.22" width="16.67" height="5.60" fill="#fdb93c"/>
<rect x="218.00" y="122.22" width="72.17" height="5.60" fill="#dcef78"/>
<rect x="290.15" y="122.22" width="5.57" height="5.60" fill="#2295cd"/>
<rect x="295.70" y="122.22" width="55.52" height="5.60" fill="#dcef78"/>
<rect x="351.20" y="122.22" width="5.57" height="5.60" fill="#fdb93c"/>
<rect x="212.45" y="127.80" width="11.12" height="5.60" fill="#fdb93c"/>
<rect x="223.55" y="127.80" width="5.57" height="5.60" fill="#dcef78"/>
<rect x="229.10" y="127.80" width="27.77" height="5.60" fill="#fdb93c"/>
<rect x="256.85" y="127.80" width="94.37" height="5.60" fill="#dcef78"/>
<rect x="351.20" y="127.80" width="5.57" height="5.60" fill="#fdb93c"/>
<rect x="212.45" y="133.38" width="16.67" height="5.60" fill="#fdb93c"/>
<rect x="229.10" y="133.38" width="5.57" height="5.60" fill="#dcef78"/>
<rect x="234.65" y="133.38" width="27.77" height="5.60" fill="#fdb93c"/>
<rect x="262.40" y="133.38" width="77.72" height="5.60" fill="#dcef78"/>
<rect x="340.10" y="133.38" width="11.12" height="5.60" fill="#fdb93c"/>
<rect x="218.00" y="138.97" width="11.12" height="5.60" fill="#fdb93c"/>
<rect x="229.10" y="138.97" width="5.57" height="5.60" fill="#dcef78"/>
<rect x="234.65" y="138.97" width="22.22" height="5.60" fill="#fdb93c"/>
<rect x="256.85" y="138.97" width="22.22" height="5.60" fill="#dcef78"/>
<rect x="301.25" y="138.97" width="5.57" height="5.60" fill="#fdb93c"/>
<rect x="306.80" y="138.97" width="27.77" height="5.60" fill="#dcef78"/>
<rect x="334.55" y="138.97" width="5.57" height="5.60" fill="#fdb93c"/>
<rect x="340.10" y="138.97" width="5.57" height="5.60" fill="#dcef78"/>
<rect x="345.65" y="138.97" width="5.57" height="5.60" fill="#fdb93c"/>
<rect x="218.00" y="144.56" width="16.67" height="5.60" fill="#dcef78"/>
<rect x="234.65" y="144.56" width="5.57" height="5.60" fill="#fdb93c"/>
<rect x="240.20" y="144.56" width="5.57" height="5.60" fill="#dcef78"/>
<rect x="295.70" y="144.56" width="5.57" height="5.60" fill="#fdb93c"/>
<rect x="301.25" y="144.56" width="5.57" height="5.60" fill="#dcef78"/>
<rect x="306.80" y="144.56" width="5.57" height="5.60" fill="#fdb93c"/>
<rect x="312.35" y="144.56" width="22.22" height="5.60" fill="#dcef78"/>
<rect x="334.55" y="144.56" width="11.12" height="5.60" fill="#fdb93c"/>
<rect x="223.55" y="150.14" width="22.22" height="5.60" fill="#dcef78"/>
<rect x="301.25" y="150.14" width="38.87" height="5.60" fill="#dcef78"/>
<rect x="240.20" y="155.72" width="5.57" height="5.60" fill="#dcef78"/></g>
<g transform="translate(195.8,16.1)" fill="none" stroke-linejoin="round"><path d="M0.8,2.1 L3.6,0.8 L5.2,0.8 L6.9,0.8 L8.5,1.3 L10.1,2.2 L11.8,2.9 L13.4,4.3 L14.3,6.2 L15.5,8.3 L16.7,10.3 L18.1,11.2 L19.7,12.0 L20.8,13.3 L22.8,13.9 L24.9,14.4 L27.4,15.2 L29.0,13.6 L31.5,14.4 L33.0,15.4 L34.0,16.9 L36.4,16.9 L38.0,15.6 L39.7,14.4 L41.2,13.3 L43.0,12.8 L45.5,12.0 L47.1,9.5 L49.6,7.9 L51.4,8.8 L52.8,10.3 L54.4,9.8 L56.1,9.5 L57.6,8.5 L58.6,7.0 L57.5,5.1 L57.0,2.9 L57.8,0.5 L59.3,-0.6 L61.1,-1.2 L63.5,-1.5 L64.7,-0.4 L66.0,0.5 L65.6,2.1 L66.0,3.8 L68.4,5.4 L70.1,5.7 L71.7,5.8 L73.4,6.2 L74.9,7.0 L76.7,7.0 L77.5,8.6 L77.5,10.3 L77.6,12.0 L78.3,13.6 L80.1,14.7 L81.6,16.1 L83.5,15.6 L85.5,15.1 L87.6,15.2 L90.1,13.9 L92.5,14.9 L94.5,14.3 L96.6,14.4 L98.3,14.4 L99.8,15.0 L101.5,14.9 L104.2,15.9 L106.0,16.0 L107.6,16.6 L108.9,17.7 L110.3,18.7 L112.0,19.2 L113.8,19.4 L115.5,19.9 L117.2,20.7 L119.9,21.4 L122.6,21.4 L124.7,22.1 L126.7,23.5 L129.5,24.8 L132.2,26.2 L134.9,26.9 L137.7,27.6 L139.7,28.9 L141.1,31.0 L141.8,33.0 L141.1,35.1 L139.7,36.4 L137.7,37.1 L135.6,37.8 L133.6,38.5 L130.8,39.2 L128.1,39.2 L126.1,39.9 L124.0,41.2 L122.6,42.6 L123.3,45.3 L123.3,48.1 L124.0,50.1 L126.1,51.5 L128.1,52.8 L130.2,54.9 L131.5,56.9 L132.2,58.9 L132.0,61.0 L131.9,63.2 L131.9,64.9 L131.1,66.5 L132.7,67.9 L133.6,69.8 L133.4,71.9 L132.7,73.9 L131.0,75.4 L129.5,77.2 L130.4,78.8 L131.1,80.5 L132.1,82.5 L132.7,84.6 L132.2,86.2 L131.9,87.9 L131.5,89.6 L133.6,88.9 L135.8,88.5 L137.9,88.8 L140.0,88.5 L142.2,88.1 L144.3,87.4 L146.4,87.2 L148.6,87.4 L150.2,88.0 L151.8,88.5 L153.4,89.6 L155.0,90.6 L155.2,92.8 L156.0,94.9 L155.3,96.4 L155.0,98.1 L156.0,100.2 L158.2,102.4 L159.9,102.7 L161.4,103.4 L163.5,105.6 L163.1,107.7 L163.5,109.8 L162.8,112.1 L161.4,114.1 L160.4,115.7 L159.2,117.3 L157.9,119.3 L157.1,121.5 L156.3,123.8 L155.0,125.8 L153.9,127.2 L153.2,128.9 L151.8,130.1 L150.1,131.0 L148.6,132.2 L146.9,133.1 L145.4,134.3 L143.8,135.9 L142.2,137.5 L140.4,138.3 L139.0,139.7 L137.4,140.4 L135.8,140.7 L133.6,141.1 L131.5,141.8 L129.8,141.4 L128.0,141.0 L126.2,140.7 L124.4,140.7 L122.7,140.4 L120.9,140.7 L119.1,140.3 L117.3,140.7 L115.5,140.7 L113.4,140.1 L111.3,139.7 L109.1,139.5 L107.0,138.6 L105.5,137.4 L103.8,136.5 L103.4,134.9 L102.7,133.3 L103.1,131.7 L102.7,130.1 L102.6,127.9 L101.9,125.9 L100.1,125.3 L97.7,124.7 L95.2,125.3 L93.4,124.7 L91.6,123.5 L89.8,121.7 L87.9,121.1 L85.5,121.7 L83.7,122.9 L82.5,124.7 L80.7,125.9 L78.8,127.1 L76.4,126.5 L74.6,127.1 L72.8,128.9 L70.9,128.3 L69.1,127.1 L67.3,127.7 L65.5,127.1 L63.6,128.9 L61.8,129.6 L60.0,127.7 L58.2,127.1 L55.7,128.3 L53.3,129.6 L50.9,130.2 L48.5,130.8 L47.8,133.2 L48.6,135.0 L49.1,136.9 L49.5,138.7 L49.7,140.5 L49.2,142.6 L49.1,144.7 L46.9,145.1 L44.4,144.7 L43.2,142.9 L42.6,140.5 L41.4,139.3 L39.6,140.5 L37.2,140.7 L34.7,141.1 L31.7,140.5 L29.2,139.3 L28.0,136.9 L26.2,135.0 L24.3,135.1 L22.6,134.4 L20.1,133.8 L21.4,131.4 L22.0,129.8 L22.6,128.3 L23.8,125.9 L23.2,124.1 L21.5,123.5 L20.1,122.3 L18.4,121.6 L17.1,120.4 L16.5,117.4 L15.9,114.4 L13.5,114.1 L11.8,114.5 L10.1,113.9 L8.4,114.1 L6.4,114.4 L4.4,114.1 L2.3,112.1 L2.6,110.0 L3.3,108.0 L3.6,106.3 L4.4,104.7 L4.4,102.9 L4.5,100.8 L5.4,98.8 L6.4,97.3 L7.4,95.8 L9.0,94.8 L10.5,93.7 L12.2,93.0 L13.5,91.7 L14.8,90.3 L15.6,88.6 L15.9,86.6 L15.4,84.5 L15.6,82.5 L15.3,80.7 L15.0,79.0 L15.2,77.1 L14.6,75.4 L13.9,73.2 L12.5,71.3 L11.2,69.9 L10.5,68.2 L9.5,66.2 L9.7,64.6 L10.5,63.1 L11.3,61.5 L12.5,60.1 L13.9,58.9 L15.6,58.0 L17.6,57.0 L18.4,55.9 L18.3,54.1 L18.3,52.2 L17.9,50.4 L18.0,48.5 L17.4,46.9 L17.7,45.2 L17.5,43.6 L17.5,41.9 L17.2,40.0 L16.7,38.2 L16.7,36.5 L16.1,34.9 L15.6,33.3 L15.0,31.2 L14.3,29.2 L14.1,27.5 L13.9,25.9 L13.4,24.3 L12.2,22.8 L12.1,20.9 L11.0,19.4 L9.5,17.9 L7.7,16.9 L6.1,16.3 L4.5,16.1 L2.8,16.1 L1.1,14.4 L2.4,12.0 L3.3,10.7 L4.4,9.5 L3.6,7.0 L2.3,5.9 L1.1,4.6Z" stroke="#404040" stroke-width="0.95"/><path d="M122.6,21.4 L122.5,23.0 L122.0,24.6 L122.0,26.4 L121.3,28.1 L119.9,30.8 L118.8,32.1 L117.9,33.5 L117.2,35.1 L115.8,36.3 L114.8,37.6 L113.8,39.0 L112.8,40.4 L111.7,41.7 L109.7,43.8 L106.9,45.1 L104.8,46.5 L102.7,44.9 L100.5,43.8 L97.9,43.3 L95.2,42.3 L93.1,42.8 L91.5,44.4 L92.0,46.5 L90.4,48.6 L88.8,50.2 L88.3,52.4 L90.4,54.5 L92.6,56.6 L94.2,58.2 L95.8,59.3 L97.4,60.3 L99.5,61.4 L101.6,62.5 L102.7,61.9 L103.7,60.9 L104.8,59.8 L106.4,58.7 L108.5,58.2 L110.7,57.1 L112.2,56.1 L114.4,56.1 L116.5,57.1 L118.1,56.6 L120.2,57.1 L121.8,58.2 L122.9,59.8 L124.5,61.9 L126.6,63.5 L128.7,64.6 L130.9,65.1 L133.0,64.6 M18.4,55.9 L19.9,56.8 L21.3,57.8 L22.5,59.1 L23.8,60.0 L25.4,60.4 L26.6,61.6 L27.8,63.3 L29.0,64.9 L30.3,66.5 L31.5,68.2 L33.4,69.1 L34.8,70.6 L37.2,70.6 L38.4,72.3 L39.7,73.9 L40.9,75.4 L41.4,77.2 L42.6,78.8 L43.8,80.5 L45.4,81.9 L46.3,83.8 L47.8,85.2 L48.7,87.1 L50.0,88.3 L51.2,89.5 L53.7,90.3 L56.1,88.5 L58.7,87.2 L60.6,84.7 L61.9,82.1 L63.1,80.3 L63.8,78.3 L64.1,76.3 L65.0,74.5 L65.8,73.0 L67.0,71.9 L68.0,70.1 L69.2,68.4 L69.7,66.4 L70.4,64.4 L70.9,62.4 L72.6,61.3 L74.7,61.5 L76.8,61.9 L77.9,64.0 L77.2,65.5 L77.4,67.2 L79.0,69.8 L82.2,69.8 L83.2,68.4 L84.8,67.7 L87.5,68.2 L88.5,70.9 L90.0,71.8 L91.7,72.0 L93.8,71.5 L96.0,71.4 L98.6,70.4 L99.2,68.8 L97.6,67.2 L94.9,66.1 L92.8,65.0 L92.3,62.9 L93.3,61.3 L93.5,59.4 L94.4,57.6 M18.4,55.9 L19.1,57.4 L19.9,59.0 L20.1,60.7 L20.8,62.3 L21.8,64.0 L22.0,65.9 M20.8,62.3 L22.6,59.9 M88.5,70.9 L87.5,73.6 L86.0,74.5 L84.3,75.2 L82.8,76.0 L81.1,76.2 L79.6,75.3 L77.9,74.6 L76.2,74.5 L74.7,73.6 L72.6,74.6 L71.5,76.2 L70.5,77.8 L70.1,79.6 L70.9,81.0 L71.8,82.4 L72.1,84.0 L75.2,83.4 L76.8,83.7 L78.4,84.0 L80.0,85.0 L81.0,86.6 L80.7,88.2 L80.3,89.8 L79.7,91.9 L78.4,93.6 L79.4,95.1 L79.7,96.8 L81.6,99.3 L81.6,102.5 L81.0,104.1 L80.3,105.7 L80.7,107.4 L81.6,108.9 L83.3,109.2 L84.8,110.2 L86.5,110.6 L88.0,111.4 L89.6,111.2 L91.2,110.8 L93.2,110.5 L95.0,109.5 L94.6,108.9 L95.8,110.1 L97.1,112.5 L97.7,115.0 L96.4,117.4 L94.0,118.6 L91.6,119.8 L89.8,121.7 M81.6,102.5 L83.3,103.0 L84.8,103.8 L86.7,103.2 L88.6,103.2 L91.2,102.5 L93.7,103.8 L96.3,104.4 L98.5,102.4 L100.7,101.4 L102.7,100.2 L104.7,98.8 L107.0,98.1 L109.2,97.1 L111.3,96.0 L113.4,96.4 L115.5,97.0 L117.6,96.1 L119.8,96.0 L122.0,95.5 L124.1,94.9 L126.0,93.5 L128.3,92.8 L129.9,91.2 L131.5,89.6" stroke="#2c2c2c" stroke-width="0.95"/></g>
<g shape-rendering="crispEdges"><rect x="372.25" y="15.80" width="5.57" height="5.60" fill="#ec0c16"/>
<rect x="377.80" y="15.80" width="5.57" height="5.60" fill="#ffff55"/>
<rect x="427.75" y="15.80" width="5.57" height="5.60" fill="#a5cd98"/>
<rect x="433.30" y="15.80" width="5.57" height="5.60" fill="#ec0c16"/>
<rect x="377.80" y="21.39" width="5.57" height="5.60" fill="#ec0c16"/>
<rect x="383.35" y="21.39" width="5.57" height="5.60" fill="#ffff55"/>
<rect x="427.75" y="21.39" width="11.12" height="5.60" fill="#a5cd98"/>
<rect x="438.85" y="21.39" width="5.57" height="5.60" fill="#ffff55"/>
<rect x="444.40" y="21.39" width="5.57" height="5.60" fill="#f8862f"/>
<rect x="372.25" y="26.97" width="5.57" height="5.60" fill="#f8862f"/>
<rect x="377.80" y="26.97" width="5.57" height="5.60" fill="#a5cd98"/>
<rect x="383.35" y="26.97" width="11.12" height="5.60" fill="#ffff55"/>
<rect x="416.65" y="26.97" width="5.57" height="5.60" fill="#a5cd98"/>
<rect x="422.20" y="26.97" width="16.67" height="5.60" fill="#ffff55"/>
<rect x="438.85" y="26.97" width="11.12" height="5.60" fill="#f8862f"/>
<rect x="383.35" y="32.55" width="5.57" height="5.60" fill="#ffff55"/>
<rect x="388.90" y="32.55" width="16.67" height="5.60" fill="#a5cd98"/>
<rect x="405.55" y="32.55" width="16.67" height="5.60" fill="#ffff55"/>
<rect x="422.20" y="32.55" width="5.57" height="5.60" fill="#f8862f"/>
<rect x="427.75" y="32.55" width="5.57" height="5.60" fill="#ffff55"/>
<rect x="433.30" y="32.55" width="16.67" height="5.60" fill="#f8862f"/>
<rect x="449.95" y="32.55" width="33.32" height="5.60" fill="#ffff55"/>
<rect x="483.25" y="32.55" width="5.57" height="5.60" fill="#a5cd98"/>
<rect x="383.35" y="38.14" width="5.57" height="5.60" fill="#ffff55"/>
<rect x="388.90" y="38.14" width="5.57" height="5.60" fill="#f8862f"/>
<rect x="394.45" y="38.14" width="11.12" height="5.60" fill="#ffff55"/>
<rect x="405.55" y="38.14" width="11.12" height="5.60" fill="#a5cd98"/>
<rect x="416.65" y="38.14" width="5.57" height="5.60" fill="#ffff55"/>
<rect x="422.20" y="38.14" width="11.12" height="5.60" fill="#f8862f"/>
<rect x="433.30" y="38.14" width="5.57" height="5.60" fill="#ffff55"/>
<rect x="438.85" y="38.14" width="5.57" height="5.60" fill="#f8862f"/>
<rect x="444.40" y="38.14" width="22.22" height="5.60" fill="#ffff55"/>
<rect x="466.60" y="38.14" width="22.22" height="5.60" fill="#a5cd98"/>
<rect x="488.80" y="38.14" width="5.57" height="5.60" fill="#ffff55"/>
<rect x="494.35" y="38.14" width="11.12" height="5.60" fill="#a5cd98"/>
<rect x="388.90" y="43.73" width="22.22" height="5.60" fill="#ffff55"/>
<rect x="411.10" y="43.73" width="11.12" height="5.60" fill="#a5cd98"/>
<rect x="422.20" y="43.73" width="16.67" height="5.60" fill="#ffff55"/>
<rect x="438.85" y="43.73" width="5.57" height="5.60" fill="#a5cd98"/>
<rect x="444.40" y="43.73" width="22.22" height="5.60" fill="#ffff55"/>
<rect x="466.60" y="43.73" width="49.97" height="5.60" fill="#a5cd98"/>
<rect x="388.90" y="49.31" width="16.67" height="5.60" fill="#ffff55"/>
<rect x="405.55" y="49.31" width="38.87" height="5.60" fill="#a5cd98"/>
<rect x="444.40" y="49.31" width="22.22" height="5.60" fill="#ffff55"/>
<rect x="466.60" y="49.31" width="5.57" height="5.60" fill="#a5cd98"/>
<rect x="472.15" y="49.31" width="5.57" height="5.60" fill="#ffff55"/>
<rect x="477.70" y="49.31" width="38.87" height="5.60" fill="#a5cd98"/>
<rect x="388.90" y="54.89" width="5.57" height="5.60" fill="#f8862f"/>
<rect x="394.45" y="54.89" width="11.12" height="5.60" fill="#ffff55"/>
<rect x="405.55" y="54.89" width="11.12" height="5.60" fill="#a5cd98"/>
<rect x="416.65" y="54.89" width="5.57" height="5.60" fill="#2295cd"/>
<rect x="422.20" y="54.89" width="11.12" height="5.60" fill="#ffff55"/>
<rect x="433.30" y="54.89" width="5.57" height="5.60" fill="#a5cd98"/>
<rect x="438.85" y="54.89" width="27.77" height="5.60" fill="#ffff55"/>
<rect x="466.60" y="54.89" width="27.77" height="5.60" fill="#a5cd98"/>
<rect x="388.90" y="60.48" width="5.57" height="5.60" fill="#f8862f"/>
<rect x="394.45" y="60.48" width="22.22" height="5.60" fill="#ffff55"/>
<rect x="416.65" y="60.48" width="5.57" height="5.60" fill="#a5cd98"/>
<rect x="422.20" y="60.48" width="11.12" height="5.60" fill="#ffff55"/>
<rect x="433.30" y="60.48" width="5.57" height="5.60" fill="#a5cd98"/>
<rect x="438.85" y="60.48" width="5.57" height="5.60" fill="#ffff55"/>
<rect x="444.40" y="60.48" width="5.57" height="5.60" fill="#f8862f"/>
<rect x="449.95" y="60.48" width="11.12" height="5.60" fill="#ffff55"/>
<rect x="461.05" y="60.48" width="33.32" height="5.60" fill="#a5cd98"/>
<rect x="388.90" y="66.06" width="22.22" height="5.60" fill="#f8862f"/>
<rect x="411.10" y="66.06" width="5.57" height="5.60" fill="#ffff55"/>
<rect x="416.65" y="66.06" width="22.22" height="5.60" fill="#a5cd98"/>
<rect x="438.85" y="66.06" width="5.57" height="5.60" fill="#ffff55"/>
<rect x="444.40" y="66.06" width="5.57" height="5.60" fill="#a5cd98"/>
<rect x="449.95" y="66.06" width="11.12" height="5.60" fill="#ffff55"/>
<rect x="461.05" y="66.06" width="11.12" height="5.60" fill="#a5cd98"/>
<rect x="472.15" y="66.06" width="5.57" height="5.60" fill="#2295cd"/>
<rect x="477.70" y="66.06" width="16.67" height="5.60" fill="#a5cd98"/>
<rect x="494.35" y="66.06" width="5.57" height="5.60" fill="#ffff55"/>
<rect x="388.90" y="71.65" width="27.77" height="5.60" fill="#f8862f"/>
<rect x="416.65" y="71.65" width="5.57" height="5.60" fill="#ffff55"/>
<rect x="422.20" y="71.65" width="5.57" height="5.60" fill="#a5cd98"/>
<rect x="427.75" y="71.65" width="22.22" height="5.60" fill="#ffff55"/>
<rect x="449.95" y="71.65" width="27.77" height="5.60" fill="#a5cd98"/>
<rect x="477.70" y="71.65" width="5.57" height="5.60" fill="#2295cd"/>
<rect x="483.25" y="71.65" width="11.12" height="5.60" fill="#a5cd98"/>
<rect x="494.35" y="71.65" width="11.12" height="5.60" fill="#ffff55"/>
<rect x="388.90" y="77.23" width="22.22" height="5.60" fill="#f8862f"/>
<rect x="411.10" y="77.23" width="5.57" height="5.60" fill="#ec0c16"/>
<rect x="416.65" y="77.23" width="22.22" height="5.60" fill="#ffff55"/>
<rect x="438.85" y="77.23" width="5.57" height="5.60" fill="#f8862f"/>
<rect x="444.40" y="77.23" width="5.57" height="5.60" fill="#a5cd98"/>
<rect x="449.95" y="77.23" width="5.57" height="5.60" fill="#ffff55"/>
<rect x="455.50" y="77.23" width="16.67" height="5.60" fill="#a5cd98"/>
<rect x="472.15" y="77.23" width="5.57" height="5.60" fill="#2295cd"/>
<rect x="477.70" y="77.23" width="22.22" height="5.60" fill="#a5cd98"/>
<rect x="499.90" y="77.23" width="5.57" height="5.60" fill="#f8862f"/>
<rect x="383.35" y="82.82" width="11.12" height="5.60" fill="#f8862f"/>
<rect x="394.45" y="82.82" width="5.57" height="5.60" fill="#ffff55"/>
<rect x="400.00" y="82.82" width="33.32" height="5.60" fill="#f8862f"/>
<rect x="433.30" y="82.82" width="11.12" height="5.60" fill="#ec0c16"/>
<rect x="444.40" y="82.82" width="11.12" height="5.60" fill="#f8862f"/>
<rect x="455.50" y="82.82" width="11.12" height="5.60" fill="#ffff55"/>
<rect x="466.60" y="82.82" width="22.22" height="5.60" fill="#a5cd98"/>
<rect x="488.80" y="82.82" width="11.12" height="5.60" fill="#2295cd"/>
<rect x="499.90" y="82.82" width="5.57" height="5.60" fill="#ffff55"/>
<rect x="388.90" y="88.41" width="11.12" height="5.60" fill="#f8862f"/>
<rect x="400.00" y="88.41" width="5.57" height="5.60" fill="#ffff55"/>
<rect x="405.55" y="88.41" width="5.57" height="5.60" fill="#f8862f"/>
<rect x="411.10" y="88.41" width="5.57" height="5.60" fill="#ffff55"/>
<rect x="416.65" y="88.41" width="16.67" height="5.60" fill="#f8862f"/>
<rect x="433.30" y="88.41" width="11.12" height="5.60" fill="#ec0c16"/>
<rect x="444.40" y="88.41" width="11.12" height="5.60" fill="#f8862f"/>
<rect x="455.50" y="88.41" width="11.12" height="5.60" fill="#ffff55"/>
<rect x="466.60" y="88.41" width="38.87" height="5.60" fill="#a5cd98"/>
<rect x="388.90" y="93.99" width="5.57" height="5.60" fill="#ec0c16"/>
<rect x="394.45" y="93.99" width="11.12" height="5.60" fill="#ffff55"/>
<rect x="405.55" y="93.99" width="49.97" height="5.60" fill="#f8862f"/>
<rect x="455.50" y="93.99" width="11.12" height="5.60" fill="#ffff55"/>
<rect x="466.60" y="93.99" width="38.87" height="5.60" fill="#a5cd98"/>
<rect x="388.90" y="99.58" width="5.57" height="5.60" fill="#f8862f"/>
<rect x="394.45" y="99.58" width="11.12" height="5.60" fill="#a5cd98"/>
<rect x="405.55" y="99.58" width="27.77" height="5.60" fill="#f8862f"/>
<rect x="433.30" y="99.58" width="5.57" height="5.60" fill="#ffff55"/>
<rect x="438.85" y="99.58" width="5.57" height="5.60" fill="#ec0c16"/>
<rect x="444.40" y="99.58" width="5.57" height="5.60" fill="#f8862f"/>
<rect x="449.95" y="99.58" width="22.22" height="5.60" fill="#ffff55"/>
<rect x="472.15" y="99.58" width="22.22" height="5.60" fill="#a5cd98"/>
<rect x="494.35" y="99.58" width="11.12" height="5.60" fill="#2295cd"/>
<rect x="388.90" y="105.16" width="5.57" height="5.60" fill="#f8862f"/>
<rect x="394.45" y="105.16" width="5.57" height="5.60" fill="#ffff55"/>
<rect x="400.00" y="105.16" width="11.12" height="5.60" fill="#a5cd98"/>
<rect x="411.10" y="105.16" width="22.22" height="5.60" fill="#ffff55"/>
<rect x="433.30" y="105.16" width="11.12" height="5.60" fill="#f8862f"/>
<rect x="444.40" y="105.16" width="5.57" height="5.60" fill="#ec0c16"/>
<rect x="449.95" y="105.16" width="22.22" height="5.60" fill="#ffff55"/>
<rect x="472.15" y="105.16" width="16.67" height="5.60" fill="#2295cd"/>
<rect x="488.80" y="105.16" width="11.12" height="5.60" fill="#a5cd98"/>
<rect x="499.90" y="105.16" width="22.22" height="5.60" fill="#2295cd"/>
<rect x="522.10" y="105.16" width="5.57" height="5.60" fill="#a5cd98"/>
<rect x="377.80" y="110.74" width="5.57" height="5.60" fill="#ec0c16"/>
<rect x="383.35" y="110.74" width="11.12" height="5.60" fill="#f8862f"/>
<rect x="394.45" y="110.74" width="11.12" height="5.60" fill="#ffff55"/>
<rect x="405.55" y="110.74" width="5.57" height="5.60" fill="#a5cd98"/>
<rect x="411.10" y="110.74" width="22.22" height="5.60" fill="#ffff55"/>
<rect x="433.30" y="110.74" width="11.12" height="5.60" fill="#f8862f"/>
<rect x="444.40" y="110.74" width="5.57" height="5.60" fill="#ffff55"/>
<rect x="449.95" y="110.74" width="5.57" height="5.60" fill="#f8862f"/>
<rect x="455.50" y="110.74" width="5.57" height="5.60" fill="#ffff55"/>
<rect x="461.05" y="110.74" width="27.77" height="5.60" fill="#a5cd98"/>
<rect x="488.80" y="110.74" width="22.22" height="5.60" fill="#2295cd"/>
<rect x="511.00" y="110.74" width="16.67" height="5.60" fill="#a5cd98"/>
<rect x="377.80" y="116.33" width="5.57" height="5.60" fill="#f8862f"/>
<rect x="383.35" y="116.33" width="5.57" height="5.60" fill="#ec0c16"/>
<rect x="388.90" y="116.33" width="5.57" height="5.60" fill="#f8862f"/>
<rect x="394.45" y="116.33" width="5.57" height="5.60" fill="#a5cd98"/>
<rect x="400.00" y="116.33" width="5.57" height="5.60" fill="#ffff55"/>
<rect x="405.55" y="116.33" width="22.22" height="5.60" fill="#a5cd98"/>
<rect x="427.75" y="116.33" width="27.77" height="5.60" fill="#ffff55"/>
<rect x="455.50" y="116.33" width="5.57" height="5.60" fill="#a5cd98"/>
<rect x="461.05" y="116.33" width="5.57" height="5.60" fill="#2295cd"/>
<rect x="466.60" y="116.33" width="11.12" height="5.60" fill="#a5cd98"/>
<rect x="477.70" y="116.33" width="22.22" height="5.60" fill="#2295cd"/>
<rect x="499.90" y="116.33" width="16.67" height="5.60" fill="#a5cd98"/>
<rect x="516.55" y="116.33" width="5.57" height="5.60" fill="#ffff55"/>
<rect x="522.10" y="116.33" width="5.57" height="5.60" fill="#a5cd98"/>
<rect x="377.80" y="121.91" width="16.67" height="5.60" fill="#ffff55"/>
<rect x="394.45" y="121.91" width="27.77" height="5.60" fill="#a5cd98"/>
<rect x="422.20" y="121.91" width="16.67" height="5.60" fill="#ffff55"/>
<rect x="438.85" y="121.91" width="22.22" height="5.60" fill="#a5cd98"/>
<rect x="461.05" y="121.91" width="11.12" height="5.60" fill="#2295cd"/>
<rect x="472.15" y="121.91" width="11.12" height="5.60" fill="#a5cd98"/>
<rect x="483.25" y="121.91" width="27.77" height="5.60" fill="#2295cd"/>
<rect x="511.00" y="121.91" width="16.67" height="5.60" fill="#a5cd98"/>
<rect x="527.65" y="121.91" width="5.57" height="5.60" fill="#ffff55"/>
<rect x="388.90" y="127.50" width="5.57" height="5.60" fill="#f8862f"/>
<rect x="394.45" y="127.50" width="5.57" height="5.60" fill="#ffff55"/>
<rect x="400.00" y="127.50" width="5.57" height="5.60" fill="#a5cd98"/>
<rect x="405.55" y="127.50" width="5.57" height="5.60" fill="#ffff55"/>
<rect x="411.10" y="127.50" width="11.12" height="5.60" fill="#a5cd98"/>
<rect x="422.20" y="127.50" width="11.12" height="5.60" fill="#ffff55"/>
<rect x="433.30" y="127.50" width="55.52" height="5.60" fill="#a5cd98"/>
<rect x="488.80" y="127.50" width="27.77" height="5.60" fill="#2295cd"/>
<rect x="516.55" y="127.50" width="11.12" height="5.60" fill="#a5cd98"/>
<rect x="527.65" y="127.50" width="5.57" height="5.60" fill="#ffff55"/>
<rect x="388.90" y="133.09" width="16.67" height="5.60" fill="#ffff55"/>
<rect x="405.55" y="133.09" width="5.57" height="5.60" fill="#a5cd98"/>
<rect x="411.10" y="133.09" width="27.77" height="5.60" fill="#ffff55"/>
<rect x="438.85" y="133.09" width="5.57" height="5.60" fill="#a5cd98"/>
<rect x="444.40" y="133.09" width="5.57" height="5.60" fill="#2295cd"/>
<rect x="449.95" y="133.09" width="33.32" height="5.60" fill="#a5cd98"/>
<rect x="483.25" y="133.09" width="33.32" height="5.60" fill="#2295cd"/>
<rect x="516.55" y="133.09" width="11.12" height="5.60" fill="#a5cd98"/>
<rect x="394.45" y="138.67" width="38.87" height="5.60" fill="#ffff55"/>
<rect x="433.30" y="138.67" width="11.12" height="5.60" fill="#a5cd98"/>
<rect x="444.40" y="138.67" width="11.12" height="5.60" fill="#2295cd"/>
<rect x="477.70" y="138.67" width="11.12" height="5.60" fill="#a5cd98"/>
<rect x="488.80" y="138.67" width="11.12" height="5.60" fill="#2295cd"/>
<rect x="499.90" y="138.67" width="27.77" height="5.60" fill="#a5cd98"/>
<rect x="394.45" y="144.26" width="22.22" height="5.60" fill="#a5cd98"/>
<rect x="416.65" y="144.26" width="5.57" height="5.60" fill="#ffff55"/>
<rect x="472.15" y="144.26" width="16.67" height="5.60" fill="#a5cd98"/>
<rect x="488.80" y="144.26" width="5.57" height="5.60" fill="#2295cd"/>
<rect x="494.35" y="144.26" width="27.77" height="5.60" fill="#a5cd98"/>
<rect x="400.00" y="149.84" width="22.22" height="5.60" fill="#a5cd98"/>
<rect x="477.70" y="149.84" width="22.22" height="5.60" fill="#a5cd98"/>
<rect x="499.90" y="149.84" width="16.67" height="5.60" fill="#2295cd"/>
<rect x="416.65" y="155.43" width="5.57" height="5.60" fill="#a5cd98"/></g>
<g transform="translate(372.25,15.8)" fill="none" stroke-linejoin="round"><path d="M0.8,2.1 L3.6,0.8 L5.2,0.8 L6.9,0.8 L8.5,1.3 L10.1,2.2 L11.8,2.9 L13.4,4.3 L14.3,6.2 L15.5,8.3 L16.7,10.3 L18.1,11.2 L19.7,12.0 L20.8,13.3 L22.8,13.9 L24.9,14.4 L27.4,15.2 L29.0,13.6 L31.5,14.4 L33.0,15.4 L34.0,16.9 L36.4,16.9 L38.0,15.6 L39.7,14.4 L41.2,13.3 L43.0,12.8 L45.5,12.0 L47.1,9.5 L49.6,7.9 L51.4,8.8 L52.8,10.3 L54.4,9.8 L56.1,9.5 L57.6,8.5 L58.6,7.0 L57.5,5.1 L57.0,2.9 L57.8,0.5 L59.3,-0.6 L61.1,-1.2 L63.5,-1.5 L64.7,-0.4 L66.0,0.5 L65.6,2.1 L66.0,3.8 L68.4,5.4 L70.1,5.7 L71.7,5.8 L73.4,6.2 L74.9,7.0 L76.7,7.0 L77.5,8.6 L77.5,10.3 L77.6,12.0 L78.3,13.6 L80.1,14.7 L81.6,16.1 L83.5,15.6 L85.5,15.1 L87.6,15.2 L90.1,13.9 L92.5,14.9 L94.5,14.3 L96.6,14.4 L98.3,14.4 L99.8,15.0 L101.5,14.9 L104.2,15.9 L106.0,16.0 L107.6,16.6 L108.9,17.7 L110.3,18.7 L112.0,19.2 L113.8,19.4 L115.5,19.9 L117.2,20.7 L119.9,21.4 L122.6,21.4 L124.7,22.1 L126.7,23.5 L129.5,24.8 L132.2,26.2 L134.9,26.9 L137.7,27.6 L139.7,28.9 L141.1,31.0 L141.8,33.0 L141.1,35.1 L139.7,36.4 L137.7,37.1 L135.6,37.8 L133.6,38.5 L130.8,39.2 L128.1,39.2 L126.1,39.9 L124.0,41.2 L122.6,42.6 L123.3,45.3 L123.3,48.1 L124.0,50.1 L126.1,51.5 L128.1,52.8 L130.2,54.9 L131.5,56.9 L132.2,58.9 L132.0,61.0 L131.9,63.2 L131.9,64.9 L131.1,66.5 L132.7,67.9 L133.6,69.8 L133.4,71.9 L132.7,73.9 L131.0,75.4 L129.5,77.2 L130.4,78.8 L131.1,80.5 L132.1,82.5 L132.7,84.6 L132.2,86.2 L131.9,87.9 L131.5,89.6 L133.6,88.9 L135.8,88.5 L137.9,88.8 L140.0,88.5 L142.2,88.1 L144.3,87.4 L146.4,87.2 L148.6,87.4 L150.2,88.0 L151.8,88.5 L153.4,89.6 L155.0,90.6 L155.2,92.8 L156.0,94.9 L155.3,96.4 L155.0,98.1 L156.0,100.2 L158.2,102.4 L159.9,102.7 L161.4,103.4 L163.5,105.6 L163.1,107.7 L163.5,109.8 L162.8,112.1 L161.4,114.1 L160.4,115.7 L159.2,117.3 L157.9,119.3 L157.1,121.5 L156.3,123.8 L155.0,125.8 L153.9,127.2 L153.2,128.9 L151.8,130.1 L150.1,131.0 L148.6,132.2 L146.9,133.1 L145.4,134.3 L143.8,135.9 L142.2,137.5 L140.4,138.3 L139.0,139.7 L137.4,140.4 L135.8,140.7 L133.6,141.1 L131.5,141.8 L129.8,141.4 L128.0,141.0 L126.2,140.7 L124.4,140.7 L122.7,140.4 L120.9,140.7 L119.1,140.3 L117.3,140.7 L115.5,140.7 L113.4,140.1 L111.3,139.7 L109.1,139.5 L107.0,138.6 L105.5,137.4 L103.8,136.5 L103.4,134.9 L102.7,133.3 L103.1,131.7 L102.7,130.1 L102.6,127.9 L101.9,125.9 L100.1,125.3 L97.7,124.7 L95.2,125.3 L93.4,124.7 L91.6,123.5 L89.8,121.7 L87.9,121.1 L85.5,121.7 L83.7,122.9 L82.5,124.7 L80.7,125.9 L78.8,127.1 L76.4,126.5 L74.6,127.1 L72.8,128.9 L70.9,128.3 L69.1,127.1 L67.3,127.7 L65.5,127.1 L63.6,128.9 L61.8,129.6 L60.0,127.7 L58.2,127.1 L55.7,128.3 L53.3,129.6 L50.9,130.2 L48.5,130.8 L47.8,133.2 L48.6,135.0 L49.1,136.9 L49.5,138.7 L49.7,140.5 L49.2,142.6 L49.1,144.7 L46.9,145.1 L44.4,144.7 L43.2,142.9 L42.6,140.5 L41.4,139.3 L39.6,140.5 L37.2,140.7 L34.7,141.1 L31.7,140.5 L29.2,139.3 L28.0,136.9 L26.2,135.0 L24.3,135.1 L22.6,134.4 L20.1,133.8 L21.4,131.4 L22.0,129.8 L22.6,128.3 L23.8,125.9 L23.2,124.1 L21.5,123.5 L20.1,122.3 L18.4,121.6 L17.1,120.4 L16.5,117.4 L15.9,114.4 L13.5,114.1 L11.8,114.5 L10.1,113.9 L8.4,114.1 L6.4,114.4 L4.4,114.1 L2.3,112.1 L2.6,110.0 L3.3,108.0 L3.6,106.3 L4.4,104.7 L4.4,102.9 L4.5,100.8 L5.4,98.8 L6.4,97.3 L7.4,95.8 L9.0,94.8 L10.5,93.7 L12.2,93.0 L13.5,91.7 L14.8,90.3 L15.6,88.6 L15.9,86.6 L15.4,84.5 L15.6,82.5 L15.3,80.7 L15.0,79.0 L15.2,77.1 L14.6,75.4 L13.9,73.2 L12.5,71.3 L11.2,69.9 L10.5,68.2 L9.5,66.2 L9.7,64.6 L10.5,63.1 L11.3,61.5 L12.5,60.1 L13.9,58.9 L15.6,58.0 L17.6,57.0 L18.4,55.9 L18.3,54.1 L18.3,52.2 L17.9,50.4 L18.0,48.5 L17.4,46.9 L17.7,45.2 L17.5,43.6 L17.5,41.9 L17.2,40.0 L16.7,38.2 L16.7,36.5 L16.1,34.9 L15.6,33.3 L15.0,31.2 L14.3,29.2 L14.1,27.5 L13.9,25.9 L13.4,24.3 L12.2,22.8 L12.1,20.9 L11.0,19.4 L9.5,17.9 L7.7,16.9 L6.1,16.3 L4.5,16.1 L2.8,16.1 L1.1,14.4 L2.4,12.0 L3.3,10.7 L4.4,9.5 L3.6,7.0 L2.3,5.9 L1.1,4.6Z" stroke="#404040" stroke-width="0.95"/><path d="M122.6,21.4 L122.5,23.0 L122.0,24.6 L122.0,26.4 L121.3,28.1 L119.9,30.8 L118.8,32.1 L117.9,33.5 L117.2,35.1 L115.8,36.3 L114.8,37.6 L113.8,39.0 L112.8,40.4 L111.7,41.7 L109.7,43.8 L106.9,45.1 L104.8,46.5 L102.7,44.9 L100.5,43.8 L97.9,43.3 L95.2,42.3 L93.1,42.8 L91.5,44.4 L92.0,46.5 L90.4,48.6 L88.8,50.2 L88.3,52.4 L90.4,54.5 L92.6,56.6 L94.2,58.2 L95.8,59.3 L97.4,60.3 L99.5,61.4 L101.6,62.5 L102.7,61.9 L103.7,60.9 L104.8,59.8 L106.4,58.7 L108.5,58.2 L110.7,57.1 L112.2,56.1 L114.4,56.1 L116.5,57.1 L118.1,56.6 L120.2,57.1 L121.8,58.2 L122.9,59.8 L124.5,61.9 L126.6,63.5 L128.7,64.6 L130.9,65.1 L133.0,64.6 M18.4,55.9 L19.9,56.8 L21.3,57.8 L22.5,59.1 L23.8,60.0 L25.4,60.4 L26.6,61.6 L27.8,63.3 L29.0,64.9 L30.3,66.5 L31.5,68.2 L33.4,69.1 L34.8,70.6 L37.2,70.6 L38.4,72.3 L39.7,73.9 L40.9,75.4 L41.4,77.2 L42.6,78.8 L43.8,80.5 L45.4,81.9 L46.3,83.8 L47.8,85.2 L48.7,87.1 L50.0,88.3 L51.2,89.5 L53.7,90.3 L56.1,88.5 L58.7,87.2 L60.6,84.7 L61.9,82.1 L63.1,80.3 L63.8,78.3 L64.1,76.3 L65.0,74.5 L65.8,73.0 L67.0,71.9 L68.0,70.1 L69.2,68.4 L69.7,66.4 L70.4,64.4 L70.9,62.4 L72.6,61.3 L74.7,61.5 L76.8,61.9 L77.9,64.0 L77.2,65.5 L77.4,67.2 L79.0,69.8 L82.2,69.8 L83.2,68.4 L84.8,67.7 L87.5,68.2 L88.5,70.9 L90.0,71.8 L91.7,72.0 L93.8,71.5 L96.0,71.4 L98.6,70.4 L99.2,68.8 L97.6,67.2 L94.9,66.1 L92.8,65.0 L92.3,62.9 L93.3,61.3 L93.5,59.4 L94.4,57.6 M18.4,55.9 L19.1,57.4 L19.9,59.0 L20.1,60.7 L20.8,62.3 L21.8,64.0 L22.0,65.9 M20.8,62.3 L22.6,59.9 M88.5,70.9 L87.5,73.6 L86.0,74.5 L84.3,75.2 L82.8,76.0 L81.1,76.2 L79.6,75.3 L77.9,74.6 L76.2,74.5 L74.7,73.6 L72.6,74.6 L71.5,76.2 L70.5,77.8 L70.1,79.6 L70.9,81.0 L71.8,82.4 L72.1,84.0 L75.2,83.4 L76.8,83.7 L78.4,84.0 L80.0,85.0 L81.0,86.6 L80.7,88.2 L80.3,89.8 L79.7,91.9 L78.4,93.6 L79.4,95.1 L79.7,96.8 L81.6,99.3 L81.6,102.5 L81.0,104.1 L80.3,105.7 L80.7,107.4 L81.6,108.9 L83.3,109.2 L84.8,110.2 L86.5,110.6 L88.0,111.4 L89.6,111.2 L91.2,110.8 L93.2,110.5 L95.0,109.5 L94.6,108.9 L95.8,110.1 L97.1,112.5 L97.7,115.0 L96.4,117.4 L94.0,118.6 L91.6,119.8 L89.8,121.7 M81.6,102.5 L83.3,103.0 L84.8,103.8 L86.7,103.2 L88.6,103.2 L91.2,102.5 L93.7,103.8 L96.3,104.4 L98.5,102.4 L100.7,101.4 L102.7,100.2 L104.7,98.8 L107.0,98.1 L109.2,97.1 L111.3,96.0 L113.4,96.4 L115.5,97.0 L117.6,96.1 L119.8,96.0 L122.0,95.5 L124.1,94.9 L126.0,93.5 L128.3,92.8 L129.9,91.2 L131.5,89.6" stroke="#2c2c2c" stroke-width="0.95"/></g>
<text x="123.7" y="22.9" font-size="6.8" text-anchor="start" font-family='"Liberation Serif","Times New Roman",serif' fill="#2a2a2a" stroke="#2a2a2a" stroke-width="0.22" >(a)Frequency</text>
<text x="293" y="22.8" font-size="6.8" text-anchor="start" font-family='"Liberation Serif","Times New Roman",serif' fill="#2a2a2a" stroke="#2a2a2a" stroke-width="0.22" >(b)Average duration</text>
<text x="467.8" y="22.8" font-size="6.8" text-anchor="start" font-family='"Liberation Serif","Times New Roman",serif' fill="#2a2a2a" stroke="#2a2a2a" stroke-width="0.22" >(c)Average S value</text>
<rect x="96.10" y="168.6" width="11.46" height="5.300000000000011" fill="#2295cd"/>
<rect x="107.56" y="168.6" width="11.46" height="5.300000000000011" fill="#85bba8"/>
<rect x="119.01" y="168.6" width="11.46" height="5.300000000000011" fill="#c3da8e"/>
<rect x="130.47" y="168.6" width="11.46" height="5.300000000000011" fill="#ffff66"/>
<rect x="141.93" y="168.6" width="11.46" height="5.300000000000011" fill="#fdba3c"/>
<rect x="153.39" y="168.6" width="11.46" height="5.300000000000011" fill="#f86a26"/>
<rect x="164.84" y="168.6" width="11.46" height="5.300000000000011" fill="#ec0c16"/>
<rect x="96.1" y="168.6" width="80.20" height="5.300000000000011" fill="none" stroke="#999" stroke-width="0.4"/>
<text x="96.1" y="166.8" font-size="6.3" text-anchor="middle" font-family='"Liberation Serif","Times New Roman",serif' fill="#2a2a2a" stroke="#2a2a2a" stroke-width="0.22" >65</text>
<text x="107.56" y="166.8" font-size="6.3" text-anchor="middle" font-family='"Liberation Serif","Times New Roman",serif' fill="#2a2a2a" stroke="#2a2a2a" stroke-width="0.22" >70</text>
<text x="119.01" y="166.8" font-size="6.3" text-anchor="middle" font-family='"Liberation Serif","Times New Roman",serif' fill="#2a2a2a" stroke="#2a2a2a" stroke-width="0.22" >75</text>
<text x="130.47" y="166.8" font-size="6.3" text-anchor="middle" font-family='"Liberation Serif","Times New Roman",serif' fill="#2a2a2a" stroke="#2a2a2a" stroke-width="0.22" >80</text>
<text x="141.93" y="166.8" font-size="6.3" text-anchor="middle" font-family='"Liberation Serif","Times New Roman",serif' fill="#2a2a2a" stroke="#2a2a2a" stroke-width="0.22" >85</text>
<text x="153.39" y="166.8" font-size="6.3" text-anchor="middle" font-family='"Liberation Serif","Times New Roman",serif' fill="#2a2a2a" stroke="#2a2a2a" stroke-width="0.22" >90</text>
<text x="164.84" y="166.8" font-size="6.3" text-anchor="middle" font-family='"Liberation Serif","Times New Roman",serif' fill="#2a2a2a" stroke="#2a2a2a" stroke-width="0.22" >95</text>
<text x="176.3" y="166.8" font-size="6.3" text-anchor="middle" font-family='"Liberation Serif","Times New Roman",serif' fill="#2a2a2a" stroke="#2a2a2a" stroke-width="0.22" >100</text>
<rect x="301.70" y="168.6" width="11.92" height="5.800000000000011" fill="#2295cd"/>
<rect x="313.62" y="168.6" width="11.92" height="5.800000000000011" fill="#dcef78"/>
<rect x="325.55" y="168.6" width="11.92" height="5.800000000000011" fill="#fdb93c"/>
<rect x="337.47" y="168.6" width="11.92" height="5.800000000000011" fill="#f00c14"/>
<rect x="301.7" y="168.6" width="47.70" height="5.800000000000011" fill="none" stroke="#999" stroke-width="0.4"/>
<text x="301.7" y="166.8" font-size="6.3" text-anchor="middle" font-family='"Liberation Serif","Times New Roman",serif' fill="#2a2a2a" stroke="#2a2a2a" stroke-width="0.22" >3.5</text>
<text x="313.62" y="166.8" font-size="6.3" text-anchor="middle" font-family='"Liberation Serif","Times New Roman",serif' fill="#2a2a2a" stroke="#2a2a2a" stroke-width="0.22" >4</text>
<text x="325.55" y="166.8" font-size="6.3" text-anchor="middle" font-family='"Liberation Serif","Times New Roman",serif' fill="#2a2a2a" stroke="#2a2a2a" stroke-width="0.22" >4.5</text>
<text x="337.47" y="166.8" font-size="6.3" text-anchor="middle" font-family='"Liberation Serif","Times New Roman",serif' fill="#2a2a2a" stroke="#2a2a2a" stroke-width="0.22" >5</text>
<text x="349.4" y="166.8" font-size="6.3" text-anchor="middle" font-family='"Liberation Serif","Times New Roman",serif' fill="#2a2a2a" stroke="#2a2a2a" stroke-width="0.22" >5.5</text>
<rect x="459.50" y="168.5" width="14.74" height="5.699999999999989" fill="#ec0c16"/>
<rect x="474.24" y="168.5" width="14.74" height="5.699999999999989" fill="#f8862f"/>
<rect x="488.98" y="168.5" width="14.74" height="5.699999999999989" fill="#ffff55"/>
<rect x="503.72" y="168.5" width="14.74" height="5.699999999999989" fill="#a5cd98"/>
<rect x="518.46" y="168.5" width="14.74" height="5.699999999999989" fill="#2295cd"/>
<rect x="459.5" y="168.5" width="73.70" height="5.699999999999989" fill="none" stroke="#999" stroke-width="0.4"/>
<text x="459.5" y="166.8" font-size="6.3" text-anchor="middle" font-family='"Liberation Serif","Times New Roman",serif' fill="#2a2a2a" stroke="#2a2a2a" stroke-width="0.22" >&#8722;5.8</text>
<text x="474.24" y="166.8" font-size="6.3" text-anchor="middle" font-family='"Liberation Serif","Times New Roman",serif' fill="#2a2a2a" stroke="#2a2a2a" stroke-width="0.22" >&#8722;5.5</text>
<text x="488.98" y="166.8" font-size="6.3" text-anchor="middle" font-family='"Liberation Serif","Times New Roman",serif' fill="#2a2a2a" stroke="#2a2a2a" stroke-width="0.22" >&#8722;5.1</text>
<text x="503.72" y="166.8" font-size="6.3" text-anchor="middle" font-family='"Liberation Serif","Times New Roman",serif' fill="#2a2a2a" stroke="#2a2a2a" stroke-width="0.22" >&#8722;4.7</text>
<text x="518.46" y="166.8" font-size="6.3" text-anchor="middle" font-family='"Liberation Serif","Times New Roman",serif' fill="#2a2a2a" stroke="#2a2a2a" stroke-width="0.22" >&#8722;4.3</text>
<text x="533.2" y="166.8" font-size="6.3" text-anchor="middle" font-family='"Liberation Serif","Times New Roman",serif' fill="#2a2a2a" stroke="#2a2a2a" stroke-width="0.22" >&#8722;3.8</text>
<rect x="12.1" y="170.1" width="25.4" height="2.9" fill="#000"/>
<rect x="37.5" y="170.4" width="24.4" height="2.3" fill="#fff" stroke="#000" stroke-width="0.6"/>
<text x="12.5" y="167.5" font-size="6.3" text-anchor="middle" font-family='"Liberation Serif","Times New Roman",serif' fill="#2a2a2a" stroke="#2a2a2a" stroke-width="0.22" >0</text>
<text x="37.3" y="167.5" font-size="6.3" text-anchor="middle" font-family='"Liberation Serif","Times New Roman",serif' fill="#2a2a2a" stroke="#2a2a2a" stroke-width="0.22" >250</text>
<text x="62.1" y="167.5" font-size="6.3" text-anchor="middle" font-family='"Liberation Serif","Times New Roman",serif' fill="#2a2a2a" stroke="#2a2a2a" stroke-width="0.22" >500</text>
<text x="63.6" y="173.6" font-size="6.3" text-anchor="start" font-family='"Liberation Serif","Times New Roman",serif' fill="#2a2a2a" stroke="#2a2a2a" stroke-width="0.22" >km</text>
<text x="532" y="21.6" font-size="8.3" text-anchor="middle" font-family='"Liberation Sans",Arial,sans-serif' fill="#000" stroke="#000" stroke-width="0.22" font-weight="bold">N</text>
<path d="M531.5,24.3 L525.5,45.2 L531.8,37.3 Z" fill="#000"/>
<path d="M531.5,24.3 L538,45.2 L531.8,37.3 Z" fill="#fff" stroke="#000" stroke-width="0.7" stroke-linejoin="miter"/>
<rect x="24.40" y="276.05" width="18.20" height="31.15" fill="#00a0ff"/>
<rect x="46.55" y="257.52" width="18.20" height="49.68" fill="#00a0ff"/>
<rect x="68.70" y="226.37" width="18.20" height="80.83" fill="#00a0ff"/>
<rect x="90.85" y="202.32" width="18.20" height="104.88" fill="#00a0ff"/>
<rect x="113.00" y="221.25" width="18.20" height="85.95" fill="#00a0ff"/>
<rect x="135.15" y="273.09" width="18.20" height="34.11" fill="#00a0ff"/>
<rect x="157.30" y="300.10" width="18.20" height="7.10" fill="#00a0ff"/>
<rect x="21.3" y="188.6" width="156.10" height="118.60" fill="none" stroke="#8a8a8a" stroke-width="1.2"/>
<line x1="21.3" y1="307.20" x2="22.8" y2="307.20" stroke="#555" stroke-width="0.6"/>
<line x1="177.4" y1="307.20" x2="175.9" y2="307.20" stroke="#555" stroke-width="0.6"/>
<text x="19.0" y="309.3" font-size="6.3" text-anchor="end" font-family='"Liberation Serif","Times New Roman",serif' fill="#2a2a2a" stroke="#2a2a2a" stroke-width="0.22" >0</text>
<line x1="21.3" y1="267.77" x2="22.8" y2="267.77" stroke="#555" stroke-width="0.6"/>
<line x1="177.4" y1="267.77" x2="175.9" y2="267.77" stroke="#555" stroke-width="0.6"/>
<text x="19.0" y="269.87" font-size="6.3" text-anchor="end" font-family='"Liberation Serif","Times New Roman",serif' fill="#2a2a2a" stroke="#2a2a2a" stroke-width="0.22" >10</text>
<line x1="21.3" y1="228.34" x2="22.8" y2="228.34" stroke="#555" stroke-width="0.6"/>
<line x1="177.4" y1="228.34" x2="175.9" y2="228.34" stroke="#555" stroke-width="0.6"/>
<text x="19.0" y="230.44" font-size="6.3" text-anchor="end" font-family='"Liberation Serif","Times New Roman",serif' fill="#2a2a2a" stroke="#2a2a2a" stroke-width="0.22" >20</text>
<line x1="21.3" y1="188.92" x2="22.8" y2="188.92" stroke="#555" stroke-width="0.6"/>
<line x1="177.4" y1="188.92" x2="175.9" y2="188.92" stroke="#555" stroke-width="0.6"/>
<text x="19.0" y="191.02" font-size="6.3" text-anchor="end" font-family='"Liberation Serif","Times New Roman",serif' fill="#2a2a2a" stroke="#2a2a2a" stroke-width="0.22" >30</text>
<line x1="33.50" y1="307.2" x2="33.50" y2="305.7" stroke="#555" stroke-width="0.6"/>
<line x1="33.50" y1="188.6" x2="33.50" y2="190.1" stroke="#555" stroke-width="0.6"/>
<text x="33.5" y="313.5" font-size="6.4" text-anchor="middle" font-family='"Liberation Serif","Times New Roman",serif' fill="#2a2a2a" stroke="#2a2a2a" stroke-width="0.22" >[65,70]</text>
<line x1="55.65" y1="307.2" x2="55.65" y2="305.7" stroke="#555" stroke-width="0.6"/>
<line x1="55.65" y1="188.6" x2="55.65" y2="190.1" stroke="#555" stroke-width="0.6"/>
<text x="55.65" y="313.5" font-size="6.4" text-anchor="middle" font-family='"Liberation Serif","Times New Roman",serif' fill="#2a2a2a" stroke="#2a2a2a" stroke-width="0.22" >(70,75]</text>
<line x1="77.80" y1="307.2" x2="77.80" y2="305.7" stroke="#555" stroke-width="0.6"/>
<line x1="77.80" y1="188.6" x2="77.80" y2="190.1" stroke="#555" stroke-width="0.6"/>
<text x="77.8" y="313.5" font-size="6.4" text-anchor="middle" font-family='"Liberation Serif","Times New Roman",serif' fill="#2a2a2a" stroke="#2a2a2a" stroke-width="0.22" >(75,80]</text>
<line x1="99.95" y1="307.2" x2="99.95" y2="305.7" stroke="#555" stroke-width="0.6"/>
<line x1="99.95" y1="188.6" x2="99.95" y2="190.1" stroke="#555" stroke-width="0.6"/>
<text x="99.95" y="313.5" font-size="6.4" text-anchor="middle" font-family='"Liberation Serif","Times New Roman",serif' fill="#2a2a2a" stroke="#2a2a2a" stroke-width="0.22" >(80,85]</text>
<line x1="122.10" y1="307.2" x2="122.10" y2="305.7" stroke="#555" stroke-width="0.6"/>
<line x1="122.10" y1="188.6" x2="122.10" y2="190.1" stroke="#555" stroke-width="0.6"/>
<text x="122.1" y="313.5" font-size="6.4" text-anchor="middle" font-family='"Liberation Serif","Times New Roman",serif' fill="#2a2a2a" stroke="#2a2a2a" stroke-width="0.22" >(85,90]</text>
<line x1="144.25" y1="307.2" x2="144.25" y2="305.7" stroke="#555" stroke-width="0.6"/>
<line x1="144.25" y1="188.6" x2="144.25" y2="190.1" stroke="#555" stroke-width="0.6"/>
<text x="144.25" y="313.5" font-size="6.4" text-anchor="middle" font-family='"Liberation Serif","Times New Roman",serif' fill="#2a2a2a" stroke="#2a2a2a" stroke-width="0.22" >(90,95]</text>
<line x1="166.40" y1="307.2" x2="166.40" y2="305.7" stroke="#555" stroke-width="0.6"/>
<line x1="166.40" y1="188.6" x2="166.40" y2="190.1" stroke="#555" stroke-width="0.6"/>
<text x="166.4" y="313.5" font-size="6.4" text-anchor="middle" font-family='"Liberation Serif","Times New Roman",serif' fill="#2a2a2a" stroke="#2a2a2a" stroke-width="0.22" >(95,100]</text>
<text x="100.05" y="320.0" font-size="7.0" text-anchor="middle" font-family='"Liberation Serif","Times New Roman",serif' fill="#2a2a2a" stroke="#2a2a2a" stroke-width="0.22" >Frenquency</text>
<text x="0" y="0" font-size="6.45" text-anchor="middle" font-family='"Liberation Serif","Times New Roman",serif' fill="#2a2a2a" stroke="#2a2a2a" stroke-width="0.22" transform="translate(11.10,246.90) rotate(-90)">Percent(%)</text>
<rect x="204.55" y="304.61" width="30.90" height="2.59" fill="#00a0ff"/>
<rect x="243.20" y="196.15" width="30.90" height="111.05" fill="#00a0ff"/>
<rect x="281.85" y="214.48" width="30.90" height="92.72" fill="#00a0ff"/>
<rect x="320.50" y="298.57" width="30.90" height="8.63" fill="#00a0ff"/>
<rect x="200.6" y="188.6" width="154.70" height="118.60" fill="none" stroke="#8a8a8a" stroke-width="1.2"/>
<line x1="200.6" y1="307.20" x2="202.1" y2="307.20" stroke="#555" stroke-width="0.6"/>
<line x1="355.3" y1="307.20" x2="353.8" y2="307.20" stroke="#555" stroke-width="0.6"/>
<text x="198.29999999999998" y="309.3" font-size="6.3" text-anchor="end" font-family='"Liberation Serif","Times New Roman",serif' fill="#2a2a2a" stroke="#2a2a2a" stroke-width="0.22" >0</text>
<line x1="200.6" y1="285.64" x2="202.1" y2="285.64" stroke="#555" stroke-width="0.6"/>
<line x1="355.3" y1="285.64" x2="353.8" y2="285.64" stroke="#555" stroke-width="0.6"/>
<text x="198.29999999999998" y="287.74" font-size="6.3" text-anchor="end" font-family='"Liberation Serif","Times New Roman",serif' fill="#2a2a2a" stroke="#2a2a2a" stroke-width="0.22" >10</text>
<line x1="200.6" y1="264.07" x2="202.1" y2="264.07" stroke="#555" stroke-width="0.6"/>
<line x1="355.3" y1="264.07" x2="353.8" y2="264.07" stroke="#555" stroke-width="0.6"/>
<text x="198.29999999999998" y="266.17" font-size="6.3" text-anchor="end" font-family='"Liberation Serif","Times New Roman",serif' fill="#2a2a2a" stroke="#2a2a2a" stroke-width="0.22" >20</text>
<line x1="200.6" y1="242.51" x2="202.1" y2="242.51" stroke="#555" stroke-width="0.6"/>
<line x1="355.3" y1="242.51" x2="353.8" y2="242.51" stroke="#555" stroke-width="0.6"/>
<text x="198.29999999999998" y="244.61" font-size="6.3" text-anchor="end" font-family='"Liberation Serif","Times New Roman",serif' fill="#2a2a2a" stroke="#2a2a2a" stroke-width="0.22" >30</text>
<line x1="200.6" y1="220.95" x2="202.1" y2="220.95" stroke="#555" stroke-width="0.6"/>
<line x1="355.3" y1="220.95" x2="353.8" y2="220.95" stroke="#555" stroke-width="0.6"/>
<text x="198.29999999999998" y="223.05" font-size="6.3" text-anchor="end" font-family='"Liberation Serif","Times New Roman",serif' fill="#2a2a2a" stroke="#2a2a2a" stroke-width="0.22" >40</text>
<line x1="200.6" y1="199.38" x2="202.1" y2="199.38" stroke="#555" stroke-width="0.6"/>
<line x1="355.3" y1="199.38" x2="353.8" y2="199.38" stroke="#555" stroke-width="0.6"/>
<text x="198.29999999999998" y="201.48" font-size="6.3" text-anchor="end" font-family='"Liberation Serif","Times New Roman",serif' fill="#2a2a2a" stroke="#2a2a2a" stroke-width="0.22" >50</text>
<line x1="220.00" y1="307.2" x2="220.00" y2="305.7" stroke="#555" stroke-width="0.6"/>
<line x1="220.00" y1="188.6" x2="220.00" y2="190.1" stroke="#555" stroke-width="0.6"/>
<text x="220.0" y="313.5" font-size="6.4" text-anchor="middle" font-family='"Liberation Serif","Times New Roman",serif' fill="#2a2a2a" stroke="#2a2a2a" stroke-width="0.22" >&#8804;4</text>
<line x1="258.65" y1="307.2" x2="258.65" y2="305.7" stroke="#555" stroke-width="0.6"/>
<line x1="258.65" y1="188.6" x2="258.65" y2="190.1" stroke="#555" stroke-width="0.6"/>
<text x="258.65" y="313.5" font-size="6.4" text-anchor="middle" font-family='"Liberation Serif","Times New Roman",serif' fill="#2a2a2a" stroke="#2a2a2a" stroke-width="0.22" >(4,4.5]</text>
<line x1="297.30" y1="307.2" x2="297.30" y2="305.7" stroke="#555" stroke-width="0.6"/>
<line x1="297.30" y1="188.6" x2="297.30" y2="190.1" stroke="#555" stroke-width="0.6"/>
<text x="297.3" y="313.5" font-size="6.4" text-anchor="middle" font-family='"Liberation Serif","Times New Roman",serif' fill="#2a2a2a" stroke="#2a2a2a" stroke-width="0.22" >(4.5,5]</text>
<line x1="335.95" y1="307.2" x2="335.95" y2="305.7" stroke="#555" stroke-width="0.6"/>
<line x1="335.95" y1="188.6" x2="335.95" y2="190.1" stroke="#555" stroke-width="0.6"/>
<text x="335.95" y="313.5" font-size="6.4" text-anchor="middle" font-family='"Liberation Serif","Times New Roman",serif' fill="#2a2a2a" stroke="#2a2a2a" stroke-width="0.22" >&gt;5</text>
<text x="277.95" y="320.0" font-size="6.45" text-anchor="middle" font-family='"Liberation Serif","Times New Roman",serif' fill="#2a2a2a" stroke="#2a2a2a" stroke-width="0.22" >Average duration</text>
<text x="0" y="0" font-size="6.45" text-anchor="middle" font-family='"Liberation Serif","Times New Roman",serif' fill="#2a2a2a" stroke="#2a2a2a" stroke-width="0.22" transform="translate(189.60,247.90) rotate(-90)">Percent(%)</text>
<rect x="383.55" y="300.70" width="25.10" height="6.50" fill="#00a0ff"/>
<rect x="414.85" y="267.23" width="25.10" height="39.97" fill="#00a0ff"/>
<rect x="446.15" y="226.47" width="25.10" height="80.73" fill="#00a0ff"/>
<rect x="477.45" y="198.59" width="25.10" height="108.61" fill="#00a0ff"/>
<rect x="508.75" y="279.72" width="25.10" height="27.48" fill="#00a0ff"/>
<rect x="380.6" y="188.6" width="156.60" height="118.60" fill="none" stroke="#8a8a8a" stroke-width="1.2"/>
<line x1="380.6" y1="307.20" x2="382.1" y2="307.20" stroke="#555" stroke-width="0.6"/>
<line x1="537.2" y1="307.20" x2="535.7" y2="307.20" stroke="#555" stroke-width="0.6"/>
<text x="378.3" y="309.3" font-size="6.3" text-anchor="end" font-family='"Liberation Serif","Times New Roman",serif' fill="#2a2a2a" stroke="#2a2a2a" stroke-width="0.22" >0</text>
<line x1="380.6" y1="280.90" x2="382.1" y2="280.90" stroke="#555" stroke-width="0.6"/>
<line x1="537.2" y1="280.90" x2="535.7" y2="280.90" stroke="#555" stroke-width="0.6"/>
<text x="378.3" y="283.0" font-size="6.3" text-anchor="end" font-family='"Liberation Serif","Times New Roman",serif' fill="#2a2a2a" stroke="#2a2a2a" stroke-width="0.22" >10</text>
<line x1="380.6" y1="254.61" x2="382.1" y2="254.61" stroke="#555" stroke-width="0.6"/>
<line x1="537.2" y1="254.61" x2="535.7" y2="254.61" stroke="#555" stroke-width="0.6"/>
<text x="378.3" y="256.71" font-size="6.3" text-anchor="end" font-family='"Liberation Serif","Times New Roman",serif' fill="#2a2a2a" stroke="#2a2a2a" stroke-width="0.22" >20</text>
<line x1="380.6" y1="228.31" x2="382.1" y2="228.31" stroke="#555" stroke-width="0.6"/>
<line x1="537.2" y1="228.31" x2="535.7" y2="228.31" stroke="#555" stroke-width="0.6"/>
<text x="378.3" y="230.41" font-size="6.3" text-anchor="end" font-family='"Liberation Serif","Times New Roman",serif' fill="#2a2a2a" stroke="#2a2a2a" stroke-width="0.22" >30</text>
<line x1="380.6" y1="202.01" x2="382.1" y2="202.01" stroke="#555" stroke-width="0.6"/>
<line x1="537.2" y1="202.01" x2="535.7" y2="202.01" stroke="#555" stroke-width="0.6"/>
<text x="378.3" y="204.11" font-size="6.3" text-anchor="end" font-family='"Liberation Serif","Times New Roman",serif' fill="#2a2a2a" stroke="#2a2a2a" stroke-width="0.22" >40</text>
<line x1="396.10" y1="307.2" x2="396.10" y2="305.7" stroke="#555" stroke-width="0.6"/>
<line x1="396.10" y1="188.6" x2="396.10" y2="190.1" stroke="#555" stroke-width="0.6"/>
<text x="396.1" y="313.5" font-size="6.4" text-anchor="middle" font-family='"Liberation Serif","Times New Roman",serif' fill="#2a2a2a" stroke="#2a2a2a" stroke-width="0.22" >&#8804;&#8722;5.5</text>
<line x1="427.40" y1="307.2" x2="427.40" y2="305.7" stroke="#555" stroke-width="0.6"/>
<line x1="427.40" y1="188.6" x2="427.40" y2="190.1" stroke="#555" stroke-width="0.6"/>
<text x="427.4" y="313.5" font-size="6.4" text-anchor="middle" font-family='"Liberation Serif","Times New Roman",serif' fill="#2a2a2a" stroke="#2a2a2a" stroke-width="0.22" >(&#8722;5.5,&#8722;5.1]</text>
<line x1="458.70" y1="307.2" x2="458.70" y2="305.7" stroke="#555" stroke-width="0.6"/>
<line x1="458.70" y1="188.6" x2="458.70" y2="190.1" stroke="#555" stroke-width="0.6"/>
<text x="458.7" y="313.5" font-size="6.4" text-anchor="middle" font-family='"Liberation Serif","Times New Roman",serif' fill="#2a2a2a" stroke="#2a2a2a" stroke-width="0.22" >(&#8722;5.1,4.7]</text>
<line x1="490.00" y1="307.2" x2="490.00" y2="305.7" stroke="#555" stroke-width="0.6"/>
<line x1="490.00" y1="188.6" x2="490.00" y2="190.1" stroke="#555" stroke-width="0.6"/>
<text x="490.0" y="313.5" font-size="6.4" text-anchor="middle" font-family='"Liberation Serif","Times New Roman",serif' fill="#2a2a2a" stroke="#2a2a2a" stroke-width="0.22" >(&#8722;4.7,&#8722;4.3]</text>
<line x1="521.30" y1="307.2" x2="521.30" y2="305.7" stroke="#555" stroke-width="0.6"/>
<line x1="521.30" y1="188.6" x2="521.30" y2="190.1" stroke="#555" stroke-width="0.6"/>
<text x="521.3" y="313.5" font-size="6.4" text-anchor="middle" font-family='"Liberation Serif","Times New Roman",serif' fill="#2a2a2a" stroke="#2a2a2a" stroke-width="0.22" >&gt;&#8722;4.3</text>
<text x="458.9" y="320.0" font-size="6.6" text-anchor="middle" font-family='"Liberation Serif","Times New Roman",serif' fill="#2a2a2a" stroke="#2a2a2a" stroke-width="0.22" >Average <tspan font-style="italic">S</tspan>-value</text>
<text x="0" y="0" font-size="6.45" text-anchor="middle" font-family='"Liberation Serif","Times New Roman",serif' fill="#2a2a2a" stroke="#2a2a2a" stroke-width="0.22" transform="translate(370.80,245.40) rotate(-90)">Percent(%)</text>
<rect x="5.0" y="5.3" width="540.9" height="318.1" fill="none" stroke="#ababab" stroke-width="1.7"/>
</svg></body></html>
